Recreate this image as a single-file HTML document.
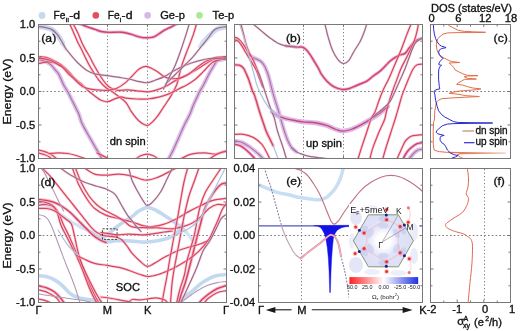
<!DOCTYPE html>
<html><head><meta charset="utf-8"><style>
html,body{margin:0;padding:0;background:#fff;}
body{width:520px;height:331px;overflow:hidden;}
svg{display:block;filter:blur(0.35px);}
</style></head><body>
<svg width="520" height="331" viewBox="0 0 520 331">
<rect width="520" height="331" fill="#fff"/>
<defs>
<clipPath id="ca"><rect x="39" y="25" width="188" height="134"/></clipPath>
<clipPath id="cb"><rect x="235" y="25" width="188" height="134"/></clipPath>
<clipPath id="cc"><rect x="431" y="25" width="80" height="134"/></clipPath>
<clipPath id="cd"><rect x="39" y="169" width="188" height="134"/></clipPath>
<clipPath id="ce"><rect x="259" y="169" width="164" height="134"/></clipPath>
<clipPath id="cf"><rect x="431" y="169" width="80" height="134"/></clipPath>
<linearGradient id="cbar" x1="0" x2="1" y1="0" y2="0"><stop offset="0" stop-color="#ff2020"/><stop offset="0.5" stop-color="#ffffff"/><stop offset="1" stop-color="#2030e0"/></linearGradient>
</defs>
<line x1="107.5" y1="25.0" x2="107.5" y2="158.0" stroke="#7a7a7a" stroke-width="1" stroke-dasharray="1.2,2.3"/><line x1="147.5" y1="25.0" x2="147.5" y2="158.0" stroke="#7a7a7a" stroke-width="1" stroke-dasharray="1.2,2.3"/><line x1="39.0" y1="91.5" x2="226.0" y2="91.5" stroke="#7a7a7a" stroke-width="1" stroke-dasharray="1.6,2.2"/><line x1="303.5" y1="25.0" x2="303.5" y2="158.0" stroke="#7a7a7a" stroke-width="1" stroke-dasharray="1.2,2.3"/><line x1="343.5" y1="25.0" x2="343.5" y2="158.0" stroke="#7a7a7a" stroke-width="1" stroke-dasharray="1.2,2.3"/><line x1="235.0" y1="91.5" x2="422.0" y2="91.5" stroke="#7a7a7a" stroke-width="1" stroke-dasharray="1.6,2.2"/><line x1="107.5" y1="169.0" x2="107.5" y2="302.0" stroke="#7a7a7a" stroke-width="1" stroke-dasharray="1.2,2.3"/><line x1="147.5" y1="169.0" x2="147.5" y2="302.0" stroke="#7a7a7a" stroke-width="1" stroke-dasharray="1.2,2.3"/><line x1="39.0" y1="235.5" x2="226.0" y2="235.5" stroke="#7a7a7a" stroke-width="1" stroke-dasharray="1.6,2.2"/><line x1="431.0" y1="91.5" x2="510.0" y2="91.5" stroke="#7a7a7a" stroke-width="1" stroke-dasharray="1.6,2.2"/><line x1="431.0" y1="235.5" x2="510.0" y2="235.5" stroke="#7a7a7a" stroke-width="1" stroke-dasharray="1.6,2.2"/><line x1="484.5" y1="169.0" x2="484.5" y2="302.0" stroke="#7a7a7a" stroke-width="1" stroke-dasharray="1.2,2.3"/><line x1="301.5" y1="169.0" x2="301.5" y2="302.0" stroke="#7a7a7a" stroke-width="1" stroke-dasharray="1.2,2.3"/><line x1="259.0" y1="235.5" x2="350.0" y2="235.5" stroke="#7a7a7a" stroke-width="1" stroke-dasharray="1.6,2.2"/>
<g clip-path="url(#ca)" fill="none" stroke-linecap="round" stroke-linejoin="round"><path d="M38.0,26.6 C39.1,26.7 42.5,26.9 44.8,27.4 C47.1,27.9 49.6,28.3 51.6,29.4 C53.6,30.5 55.5,32.5 57.0,34.2 C58.5,35.9 59.6,38.0 60.5,39.5 C61.4,41.0 62.2,42.4 62.5,43.0" stroke="#c4daf1" stroke-width="5.2" stroke-opacity="0.95"/><path d="M226.0,26.8 C224.5,27.2 219.9,27.5 217.1,29.1 C214.3,30.7 211.0,34.3 209.0,36.2 C207.0,38.1 206.1,39.3 205.0,40.5 C203.9,41.7 202.9,43.0 202.5,43.5" stroke="#c4daf1" stroke-width="5.2" stroke-opacity="0.95"/><path d="M61.0,40.5 C61.4,41.2 62.8,43.6 63.5,45.0 C64.2,46.4 65.2,48.3 65.5,49.0" stroke="#cfe1f4" stroke-width="3.6" stroke-opacity="0.80"/><path d="M207.0,38.5 C206.3,39.2 204.2,41.2 203.0,42.5 C201.8,43.8 200.1,45.8 199.5,46.5" stroke="#cfe1f4" stroke-width="3.6" stroke-opacity="0.80"/><path d="M38.0,59.5 C38.8,59.7 41.3,60.0 43.0,60.5 C44.7,61.0 46.6,61.9 48.0,62.7 C49.4,63.5 50.4,64.2 51.6,65.4 C52.8,66.6 54.0,68.4 55.2,69.9 C56.4,71.4 57.5,71.9 58.9,74.5 C60.3,77.1 62.3,82.4 63.8,85.3 C65.3,88.2 66.5,89.6 67.9,92.1 C69.3,94.6 70.6,97.6 72.0,100.3 C73.4,103.0 75.0,106.2 76.1,108.5 C77.2,110.8 77.9,111.7 78.8,114.0 C79.7,116.3 80.4,119.5 81.5,122.2 C82.6,124.9 84.0,127.4 85.6,130.3 C87.2,133.2 89.3,136.7 91.1,139.9 C92.9,143.1 94.9,146.7 96.5,149.4 C98.1,152.1 99.7,154.6 100.6,156.2 C101.5,157.8 101.8,158.5 102.0,159.0" stroke="#dabcec" stroke-width="4.2" stroke-opacity="0.95"/><path d="M38.0,59.5 C38.8,59.7 41.3,60.0 43.0,60.5 C44.7,61.0 46.6,61.9 48.0,62.7 C49.4,63.5 50.4,64.2 51.6,65.4 C52.8,66.6 54.0,68.4 55.2,69.9 C56.4,71.4 57.5,71.9 58.9,74.5 C60.3,77.1 62.3,82.4 63.8,85.3 C65.3,88.2 66.5,89.6 67.9,92.1 C69.3,94.6 70.6,97.6 72.0,100.3 C73.4,103.0 75.0,106.2 76.1,108.5 C77.2,110.8 77.9,111.7 78.8,114.0 C79.7,116.3 80.4,119.5 81.5,122.2 C82.6,124.9 84.0,127.4 85.6,130.3 C87.2,133.2 89.3,136.7 91.1,139.9 C92.9,143.1 94.9,146.7 96.5,149.4 C98.1,152.1 99.7,154.6 100.6,156.2 C101.5,157.8 101.8,158.5 102.0,159.0" stroke="#b0709c" stroke-width="1.1" stroke-opacity="1.00"/><path d="M226.0,58.6 C225.4,58.7 223.7,59.0 222.2,59.4 C220.7,59.8 218.2,60.2 217.0,61.0 C215.8,61.8 216.2,61.9 214.9,63.9 C213.7,65.9 211.3,69.7 209.5,73.0 C207.7,76.3 205.3,81.5 204.0,84.0 C202.7,86.5 202.5,86.7 201.7,88.0 C200.9,89.3 200.3,90.2 199.4,92.0 C198.5,93.8 197.3,96.7 196.2,99.0 C195.1,101.3 193.9,103.8 193.0,106.0 C192.1,108.2 191.6,110.2 190.8,112.0 C190.1,113.8 189.6,114.8 188.5,117.0 C187.4,119.2 186.0,121.6 184.4,124.9 C182.8,128.2 180.8,133.0 179.0,137.1 C177.2,141.2 175.1,146.0 173.5,149.4 C171.9,152.8 170.2,155.9 169.4,157.5 C168.6,159.1 168.7,158.8 168.5,159.0" stroke="#dabcec" stroke-width="4.2" stroke-opacity="0.95"/><path d="M226.0,58.6 C225.4,58.7 223.7,59.0 222.2,59.4 C220.7,59.8 218.2,60.2 217.0,61.0 C215.8,61.8 216.2,61.9 214.9,63.9 C213.7,65.9 211.3,69.7 209.5,73.0 C207.7,76.3 205.3,81.5 204.0,84.0 C202.7,86.5 202.5,86.7 201.7,88.0 C200.9,89.3 200.3,90.2 199.4,92.0 C198.5,93.8 197.3,96.7 196.2,99.0 C195.1,101.3 193.9,103.8 193.0,106.0 C192.1,108.2 191.6,110.2 190.8,112.0 C190.1,113.8 189.6,114.8 188.5,117.0 C187.4,119.2 186.0,121.6 184.4,124.9 C182.8,128.2 180.8,133.0 179.0,137.1 C177.2,141.2 175.1,146.0 173.5,149.4 C171.9,152.8 170.2,155.9 169.4,157.5 C168.6,159.1 168.7,158.8 168.5,159.0" stroke="#b0709c" stroke-width="1.1" stroke-opacity="1.00"/><path d="M78.0,23.5 C78.4,23.6 78.7,23.5 80.2,24.0 C81.7,24.5 84.5,25.8 87.0,26.7 C89.5,27.6 92.8,28.6 95.1,29.4 C97.4,30.2 98.7,31.0 101.0,31.5 C103.3,32.0 105.8,32.3 109.2,32.4 C112.6,32.5 117.8,31.9 121.4,32.2 C125.0,32.5 128.0,33.4 130.9,34.2 C133.8,35.0 136.6,36.3 139.1,36.9 C141.6,37.5 143.7,37.8 146.0,37.8 C148.3,37.8 150.7,37.8 152.7,37.2 C154.7,36.7 156.1,35.6 158.0,34.5 C159.9,33.4 162.1,31.5 164.1,30.3 C166.1,29.1 168.5,28.2 170.0,27.5 C171.5,26.8 172.1,26.4 173.2,25.8 C174.3,25.2 176.0,24.4 176.8,24.0 C177.6,23.6 177.8,23.6 178.0,23.5" stroke="#f0a8c6" stroke-width="3.2" stroke-opacity="0.85"/><path d="M78.0,23.5 C78.4,23.6 78.7,23.5 80.2,24.0 C81.7,24.5 84.5,25.8 87.0,26.7 C89.5,27.6 92.8,28.6 95.1,29.4 C97.4,30.2 98.7,31.0 101.0,31.5 C103.3,32.0 105.8,32.3 109.2,32.4 C112.6,32.5 117.8,31.9 121.4,32.2 C125.0,32.5 128.0,33.4 130.9,34.2 C133.8,35.0 136.6,36.3 139.1,36.9 C141.6,37.5 143.7,37.8 146.0,37.8 C148.3,37.8 150.7,37.8 152.7,37.2 C154.7,36.7 156.1,35.6 158.0,34.5 C159.9,33.4 162.1,31.5 164.1,30.3 C166.1,29.1 168.5,28.2 170.0,27.5 C171.5,26.8 172.1,26.4 173.2,25.8 C174.3,25.2 176.0,24.4 176.8,24.0 C177.6,23.6 177.8,23.6 178.0,23.5" stroke="#cc4276" stroke-width="1.4" stroke-opacity="1.00"/><path d="M69.3,23.0 C70.0,24.5 72.0,29.1 73.4,32.2 C74.8,35.3 76.1,38.7 77.5,41.7 C78.9,44.7 80.5,47.3 81.8,50.0 C83.1,52.7 84.3,55.3 85.6,58.0 C86.9,60.7 88.3,63.5 89.7,66.0 C91.1,68.5 92.5,70.6 94.0,73.0 C95.5,75.4 97.3,78.2 98.8,80.2 C100.3,82.2 101.6,83.6 103.0,85.0 C104.4,86.4 105.7,87.4 107.2,88.5 C108.7,89.6 110.2,90.2 112.0,91.5 C113.8,92.8 115.7,94.2 118.0,96.0 C120.3,97.8 123.8,100.0 126.0,102.6 C128.2,105.2 129.3,108.7 131.4,111.7 C133.5,114.7 136.3,118.5 138.7,120.8 C141.1,123.1 144.1,124.7 145.9,125.3 C147.7,125.9 147.8,125.8 149.6,124.4 C151.4,123.0 154.4,120.1 156.8,117.1 C159.2,114.1 161.7,109.9 164.1,106.3 C166.5,102.7 169.2,99.0 171.3,95.4 C173.4,91.8 175.4,88.1 176.8,84.5 C178.2,80.9 178.6,77.4 179.5,74.0 C180.4,70.6 180.9,68.0 182.3,63.9 C183.7,59.8 185.9,54.2 187.7,49.4 C189.5,44.6 191.7,39.3 193.2,34.9 C194.7,30.5 196.2,25.0 196.8,23.0" stroke="#f5b8c4" stroke-width="2.8" stroke-opacity="0.60"/><path d="M69.3,23.0 C70.0,24.5 72.0,29.1 73.4,32.2 C74.8,35.3 76.1,38.7 77.5,41.7 C78.9,44.7 80.5,47.3 81.8,50.0 C83.1,52.7 84.3,55.3 85.6,58.0 C86.9,60.7 88.3,63.5 89.7,66.0 C91.1,68.5 92.5,70.6 94.0,73.0 C95.5,75.4 97.3,78.2 98.8,80.2 C100.3,82.2 101.6,83.6 103.0,85.0 C104.4,86.4 105.7,87.4 107.2,88.5 C108.7,89.6 110.2,90.2 112.0,91.5 C113.8,92.8 115.7,94.2 118.0,96.0 C120.3,97.8 123.8,100.0 126.0,102.6 C128.2,105.2 129.3,108.7 131.4,111.7 C133.5,114.7 136.3,118.5 138.7,120.8 C141.1,123.1 144.1,124.7 145.9,125.3 C147.7,125.9 147.8,125.8 149.6,124.4 C151.4,123.0 154.4,120.1 156.8,117.1 C159.2,114.1 161.7,109.9 164.1,106.3 C166.5,102.7 169.2,99.0 171.3,95.4 C173.4,91.8 175.4,88.1 176.8,84.5 C178.2,80.9 178.6,77.4 179.5,74.0 C180.4,70.6 180.9,68.0 182.3,63.9 C183.7,59.8 185.9,54.2 187.7,49.4 C189.5,44.6 191.7,39.3 193.2,34.9 C194.7,30.5 196.2,25.0 196.8,23.0" stroke="#d9435f" stroke-width="1.2" stroke-opacity="1.00"/><path d="M72.7,23.0 C73.5,24.5 76.0,29.1 77.5,32.2 C79.0,35.3 80.2,38.8 81.5,41.7 C82.8,44.7 84.2,47.4 85.6,49.9 C87.0,52.4 88.3,54.2 89.7,56.7 C91.1,59.2 92.3,62.1 93.8,64.8 C95.3,67.5 97.0,70.5 98.5,73.0 C100.0,75.5 101.5,77.9 103.0,80.0 C104.5,82.1 106.0,84.1 107.5,85.5 C109.0,86.9 110.2,87.7 112.0,88.5 C113.8,89.3 115.3,90.1 118.0,90.3 C120.7,90.5 124.8,89.7 128.0,89.8 C131.2,89.9 133.6,90.5 136.9,90.8 C140.2,91.1 144.5,91.9 147.8,91.8 C151.1,91.7 153.8,90.8 156.8,89.9 C159.8,89.0 162.9,87.8 165.9,86.3 C168.9,84.8 171.6,82.7 174.9,80.9 C178.2,79.1 182.5,77.2 186.0,75.4 C189.5,73.6 192.8,71.9 196.0,70.0 C199.2,68.1 202.6,65.8 205.3,64.1 C208.0,62.4 209.6,61.0 212.0,60.0 C214.4,59.0 217.7,58.4 220.0,58.0 C222.3,57.6 225.0,57.6 226.0,57.5" stroke="#f5b8c4" stroke-width="2.8" stroke-opacity="0.60"/><path d="M72.7,23.0 C73.5,24.5 76.0,29.1 77.5,32.2 C79.0,35.3 80.2,38.8 81.5,41.7 C82.8,44.7 84.2,47.4 85.6,49.9 C87.0,52.4 88.3,54.2 89.7,56.7 C91.1,59.2 92.3,62.1 93.8,64.8 C95.3,67.5 97.0,70.5 98.5,73.0 C100.0,75.5 101.5,77.9 103.0,80.0 C104.5,82.1 106.0,84.1 107.5,85.5 C109.0,86.9 110.2,87.7 112.0,88.5 C113.8,89.3 115.3,90.1 118.0,90.3 C120.7,90.5 124.8,89.7 128.0,89.8 C131.2,89.9 133.6,90.5 136.9,90.8 C140.2,91.1 144.5,91.9 147.8,91.8 C151.1,91.7 153.8,90.8 156.8,89.9 C159.8,89.0 162.9,87.8 165.9,86.3 C168.9,84.8 171.6,82.7 174.9,80.9 C178.2,79.1 182.5,77.2 186.0,75.4 C189.5,73.6 192.8,71.9 196.0,70.0 C199.2,68.1 202.6,65.8 205.3,64.1 C208.0,62.4 209.6,61.0 212.0,60.0 C214.4,59.0 217.7,58.4 220.0,58.0 C222.3,57.6 225.0,57.6 226.0,57.5" stroke="#d9435f" stroke-width="1.2" stroke-opacity="1.00"/><path d="M38.0,63.6 C38.8,63.5 41.0,63.0 42.5,62.7 C44.0,62.4 45.6,61.9 47.1,61.8 C48.6,61.7 50.1,61.9 51.6,62.2 C53.1,62.5 54.4,62.9 56.1,63.6 C57.8,64.3 60.1,65.2 61.6,66.3 C63.1,67.3 64.0,68.5 65.2,69.9 C66.4,71.3 67.4,73.2 68.8,74.5 C70.2,75.8 71.3,76.2 73.4,77.8 C75.5,79.4 79.0,81.8 81.5,84.0 C84.0,86.2 86.0,88.8 88.3,90.8 C90.6,92.8 93.0,94.6 95.1,96.2 C97.2,97.8 98.9,99.4 101.0,100.3 C103.1,101.2 105.5,101.9 107.8,101.7 C110.1,101.5 112.3,99.7 114.6,98.9 C116.9,98.1 119.5,97.0 121.4,96.9 C123.3,96.8 123.4,97.8 126.0,98.1 C128.6,98.4 133.3,98.8 136.9,99.0 C140.5,99.2 144.2,99.3 147.8,99.0 C151.4,98.7 155.0,98.1 158.6,97.2 C162.2,96.3 165.9,95.1 169.5,93.6 C173.1,92.1 177.7,89.5 180.4,88.1 C183.2,86.7 183.7,86.8 186.0,85.4 C188.3,84.1 191.9,81.9 194.4,80.0 C196.9,78.1 199.2,75.8 201.0,74.0 C202.8,72.2 203.4,71.5 205.3,69.5 C207.2,67.5 210.2,64.0 212.6,62.3 C215.0,60.6 217.8,60.0 220.0,59.5 C222.2,59.0 225.0,59.4 226.0,59.4" stroke="#f5b8c4" stroke-width="2.8" stroke-opacity="0.60"/><path d="M38.0,63.6 C38.8,63.5 41.0,63.0 42.5,62.7 C44.0,62.4 45.6,61.9 47.1,61.8 C48.6,61.7 50.1,61.9 51.6,62.2 C53.1,62.5 54.4,62.9 56.1,63.6 C57.8,64.3 60.1,65.2 61.6,66.3 C63.1,67.3 64.0,68.5 65.2,69.9 C66.4,71.3 67.4,73.2 68.8,74.5 C70.2,75.8 71.3,76.2 73.4,77.8 C75.5,79.4 79.0,81.8 81.5,84.0 C84.0,86.2 86.0,88.8 88.3,90.8 C90.6,92.8 93.0,94.6 95.1,96.2 C97.2,97.8 98.9,99.4 101.0,100.3 C103.1,101.2 105.5,101.9 107.8,101.7 C110.1,101.5 112.3,99.7 114.6,98.9 C116.9,98.1 119.5,97.0 121.4,96.9 C123.3,96.8 123.4,97.8 126.0,98.1 C128.6,98.4 133.3,98.8 136.9,99.0 C140.5,99.2 144.2,99.3 147.8,99.0 C151.4,98.7 155.0,98.1 158.6,97.2 C162.2,96.3 165.9,95.1 169.5,93.6 C173.1,92.1 177.7,89.5 180.4,88.1 C183.2,86.7 183.7,86.8 186.0,85.4 C188.3,84.1 191.9,81.9 194.4,80.0 C196.9,78.1 199.2,75.8 201.0,74.0 C202.8,72.2 203.4,71.5 205.3,69.5 C207.2,67.5 210.2,64.0 212.6,62.3 C215.0,60.6 217.8,60.0 220.0,59.5 C222.2,59.0 225.0,59.4 226.0,59.4" stroke="#d9435f" stroke-width="1.2" stroke-opacity="1.00"/><path d="M38.0,56.8 C38.8,56.8 41.0,56.6 42.5,56.8 C44.0,56.9 45.6,57.2 47.1,57.7 C48.6,58.2 50.1,58.8 51.6,59.5 C53.1,60.2 54.6,61.0 56.1,61.8 C57.6,62.6 59.2,63.5 60.7,64.5 C62.2,65.5 63.7,66.7 65.2,68.1 C66.7,69.5 67.9,70.7 69.7,72.7 C71.5,74.7 73.9,77.7 76.1,80.0 C78.3,82.3 80.2,85.1 82.9,86.7 C85.6,88.3 89.4,88.8 92.4,89.4 C95.4,90.0 98.2,90.1 101.0,90.2 C103.8,90.3 106.5,90.5 109.2,90.1 C111.9,89.7 114.6,89.2 117.3,88.0 C120.0,86.8 123.0,84.6 125.5,82.6 C128.0,80.6 130.0,78.1 132.3,75.8 C134.6,73.5 136.8,70.6 139.1,69.0 C141.4,67.4 143.3,66.2 146.0,66.4 C148.7,66.6 152.1,68.6 155.1,70.3 C158.1,72.0 161.7,75.2 164.1,76.6 C166.5,77.9 167.2,78.1 169.6,78.4 C172.0,78.7 175.7,79.0 178.7,78.4 C181.7,77.8 184.7,76.6 187.7,74.8 C190.7,73.0 193.8,69.8 196.8,67.5 C199.8,65.2 202.9,62.9 205.9,61.2 C208.9,59.6 211.6,58.4 214.9,57.6 C218.2,56.9 224.2,56.9 226.0,56.7" stroke="#f5b8c4" stroke-width="2.8" stroke-opacity="0.60"/><path d="M38.0,56.8 C38.8,56.8 41.0,56.6 42.5,56.8 C44.0,56.9 45.6,57.2 47.1,57.7 C48.6,58.2 50.1,58.8 51.6,59.5 C53.1,60.2 54.6,61.0 56.1,61.8 C57.6,62.6 59.2,63.5 60.7,64.5 C62.2,65.5 63.7,66.7 65.2,68.1 C66.7,69.5 67.9,70.7 69.7,72.7 C71.5,74.7 73.9,77.7 76.1,80.0 C78.3,82.3 80.2,85.1 82.9,86.7 C85.6,88.3 89.4,88.8 92.4,89.4 C95.4,90.0 98.2,90.1 101.0,90.2 C103.8,90.3 106.5,90.5 109.2,90.1 C111.9,89.7 114.6,89.2 117.3,88.0 C120.0,86.8 123.0,84.6 125.5,82.6 C128.0,80.6 130.0,78.1 132.3,75.8 C134.6,73.5 136.8,70.6 139.1,69.0 C141.4,67.4 143.3,66.2 146.0,66.4 C148.7,66.6 152.1,68.6 155.1,70.3 C158.1,72.0 161.7,75.2 164.1,76.6 C166.5,77.9 167.2,78.1 169.6,78.4 C172.0,78.7 175.7,79.0 178.7,78.4 C181.7,77.8 184.7,76.6 187.7,74.8 C190.7,73.0 193.8,69.8 196.8,67.5 C199.8,65.2 202.9,62.9 205.9,61.2 C208.9,59.6 211.6,58.4 214.9,57.6 C218.2,56.9 224.2,56.9 226.0,56.7" stroke="#d9435f" stroke-width="1.2" stroke-opacity="1.00"/><path d="M38.0,58.2 C38.9,58.3 41.6,58.3 43.4,58.6 C45.2,58.9 47.2,59.5 48.9,60.0 C50.6,60.5 51.9,61.0 53.4,61.8 C54.9,62.5 56.4,63.6 57.9,64.5 C59.4,65.4 61.0,66.0 62.5,67.2 C64.0,68.4 65.5,70.3 67.0,71.8 C68.5,73.3 70.0,74.8 71.5,76.3 C73.0,77.8 74.2,79.3 76.1,81.0 C78.0,82.7 81.8,85.8 82.9,86.7" stroke="#f5b8c4" stroke-width="2.8" stroke-opacity="0.60"/><path d="M38.0,58.2 C38.9,58.3 41.6,58.3 43.4,58.6 C45.2,58.9 47.2,59.5 48.9,60.0 C50.6,60.5 51.9,61.0 53.4,61.8 C54.9,62.5 56.4,63.6 57.9,64.5 C59.4,65.4 61.0,66.0 62.5,67.2 C64.0,68.4 65.5,70.3 67.0,71.8 C68.5,73.3 70.0,74.8 71.5,76.3 C73.0,77.8 74.2,79.3 76.1,81.0 C78.0,82.7 81.8,85.8 82.9,86.7" stroke="#d9435f" stroke-width="1.2" stroke-opacity="1.00"/><path d="M38.0,150.0 C39.4,150.3 43.9,151.3 46.2,152.1 C48.5,152.9 49.8,153.7 51.6,154.8 C53.4,156.0 56.1,158.3 57.0,159.0" stroke="#f5b8c4" stroke-width="2.8" stroke-opacity="0.60"/><path d="M38.0,150.0 C39.4,150.3 43.9,151.3 46.2,152.1 C48.5,152.9 49.8,153.7 51.6,154.8 C53.4,156.0 56.1,158.3 57.0,159.0" stroke="#d9435f" stroke-width="1.2" stroke-opacity="1.00"/><path d="M38.0,152.8 C39.1,153.1 42.8,154.0 44.8,154.8 C46.8,155.6 49.2,156.8 50.2,157.5 C51.2,158.2 50.9,158.8 51.0,159.0" stroke="#f5b8c4" stroke-width="2.8" stroke-opacity="0.60"/><path d="M38.0,152.8 C39.1,153.1 42.8,154.0 44.8,154.8 C46.8,155.6 49.2,156.8 50.2,157.5 C51.2,158.2 50.9,158.8 51.0,159.0" stroke="#d9435f" stroke-width="1.2" stroke-opacity="1.00"/><path d="M48.9,153.5 C50.5,153.4 55.2,152.8 58.4,152.8 C61.6,152.8 65.0,153.1 67.9,153.5 C70.9,153.9 73.4,154.7 76.1,155.5 C78.8,156.3 82.6,157.6 84.3,158.2 C86.0,158.8 85.7,158.9 86.0,159.0" stroke="#f5b8c4" stroke-width="2.8" stroke-opacity="0.60"/><path d="M48.9,153.5 C50.5,153.4 55.2,152.8 58.4,152.8 C61.6,152.8 65.0,153.1 67.9,153.5 C70.9,153.9 73.4,154.7 76.1,155.5 C78.8,156.3 82.6,157.6 84.3,158.2 C86.0,158.8 85.7,158.9 86.0,159.0" stroke="#d9435f" stroke-width="1.2" stroke-opacity="1.00"/><path d="M97.0,153.0 C97.7,153.3 99.4,154.1 101.0,154.8 C102.6,155.6 105.2,156.8 106.4,157.5 C107.6,158.2 107.7,158.8 108.0,159.0" stroke="#f5b8c4" stroke-width="2.8" stroke-opacity="0.60"/><path d="M97.0,153.0 C97.7,153.3 99.4,154.1 101.0,154.8 C102.6,155.6 105.2,156.8 106.4,157.5 C107.6,158.2 107.7,158.8 108.0,159.0" stroke="#d9435f" stroke-width="1.2" stroke-opacity="1.00"/><path d="M136.0,159.0 C136.7,158.5 138.1,156.8 140.0,156.0 C141.9,155.2 145.0,154.1 147.3,154.1 C149.6,154.1 152.2,155.2 154.0,156.0 C155.8,156.8 157.3,158.5 158.0,159.0" stroke="#f5b8c4" stroke-width="2.8" stroke-opacity="0.60"/><path d="M136.0,159.0 C136.7,158.5 138.1,156.8 140.0,156.0 C141.9,155.2 145.0,154.1 147.3,154.1 C149.6,154.1 152.2,155.2 154.0,156.0 C155.8,156.8 157.3,158.5 158.0,159.0" stroke="#d9435f" stroke-width="1.2" stroke-opacity="1.00"/><path d="M180.3,159.0 C182.1,158.2 187.1,155.1 191.2,154.1 C195.3,153.1 200.7,152.8 204.8,152.8 C208.9,152.8 212.2,154.4 215.7,154.1 C219.2,153.8 224.3,151.3 226.0,150.7" stroke="#f5b8c4" stroke-width="2.8" stroke-opacity="0.60"/><path d="M180.3,159.0 C182.1,158.2 187.1,155.1 191.2,154.1 C195.3,153.1 200.7,152.8 204.8,152.8 C208.9,152.8 212.2,154.4 215.7,154.1 C219.2,153.8 224.3,151.3 226.0,150.7" stroke="#d9435f" stroke-width="1.2" stroke-opacity="1.00"/><path d="M208.9,159.0 C210.5,158.1 215.6,154.8 218.4,153.5 C221.2,152.2 224.7,151.8 226.0,151.4" stroke="#f5b8c4" stroke-width="2.8" stroke-opacity="0.60"/><path d="M208.9,159.0 C210.5,158.1 215.6,154.8 218.4,153.5 C221.2,152.2 224.7,151.8 226.0,151.4" stroke="#d9435f" stroke-width="1.2" stroke-opacity="1.00"/><path d="M38.0,26.6 C39.1,26.7 42.5,26.9 44.8,27.4 C47.1,27.9 49.6,28.3 51.6,29.4 C53.6,30.5 55.4,32.4 57.0,34.2 C58.6,36.0 59.7,38.0 61.1,40.3 C62.5,42.6 63.9,45.6 65.4,48.0 C67.0,50.4 68.2,51.8 70.4,54.4 C72.6,57.0 75.8,60.9 78.5,63.5 C81.2,66.1 83.9,68.5 86.6,70.2 C89.3,71.9 91.3,72.9 94.7,73.8 C98.1,74.7 103.0,75.0 106.9,75.6 C110.8,76.2 114.3,76.6 118.0,77.2 C121.7,77.8 125.2,78.2 128.9,79.0 C132.6,79.8 136.8,81.1 140.0,81.7 C143.2,82.3 145.3,83.0 147.8,82.7 C150.3,82.5 152.4,81.2 155.1,80.2 C157.8,79.2 161.1,78.1 164.1,76.6 C167.1,75.1 170.2,72.9 173.2,71.2 C176.2,69.5 179.3,68.0 182.3,66.6 C185.3,65.2 188.4,64.0 191.4,63.0 C194.4,62.0 197.4,61.0 200.4,60.3 C203.4,59.5 206.5,58.8 209.5,58.5 C212.5,58.2 215.8,58.4 218.6,58.5 C221.3,58.6 224.8,59.2 226.0,59.4" stroke="#e8c8d8" stroke-width="2.4" stroke-opacity="0.50"/><path d="M38.0,26.6 C39.1,26.7 42.5,26.9 44.8,27.4 C47.1,27.9 49.6,28.3 51.6,29.4 C53.6,30.5 55.4,32.4 57.0,34.2 C58.6,36.0 59.7,38.0 61.1,40.3 C62.5,42.6 63.9,45.6 65.4,48.0 C67.0,50.4 68.2,51.8 70.4,54.4 C72.6,57.0 75.8,60.9 78.5,63.5 C81.2,66.1 83.9,68.5 86.6,70.2 C89.3,71.9 91.3,72.9 94.7,73.8 C98.1,74.7 103.0,75.0 106.9,75.6 C110.8,76.2 114.3,76.6 118.0,77.2 C121.7,77.8 125.2,78.2 128.9,79.0 C132.6,79.8 136.8,81.1 140.0,81.7 C143.2,82.3 145.3,83.0 147.8,82.7 C150.3,82.5 152.4,81.2 155.1,80.2 C157.8,79.2 161.1,78.1 164.1,76.6 C167.1,75.1 170.2,72.9 173.2,71.2 C176.2,69.5 179.3,68.0 182.3,66.6 C185.3,65.2 188.4,64.0 191.4,63.0 C194.4,62.0 197.4,61.0 200.4,60.3 C203.4,59.5 206.5,58.8 209.5,58.5 C212.5,58.2 215.8,58.4 218.6,58.5 C221.3,58.6 224.8,59.2 226.0,59.4" stroke="#a06888" stroke-width="1.2" stroke-opacity="1.00"/><path d="M226.0,26.6 C224.2,27.1 218.0,27.4 214.9,29.4 C211.8,31.4 210.1,35.5 207.7,38.5 C205.3,41.5 202.8,44.6 200.4,47.6 C198.0,50.6 195.6,54.0 193.2,56.7 C190.8,59.4 188.3,61.5 185.9,63.9 C183.5,66.3 181.1,68.8 178.7,71.2 C176.3,73.6 173.5,76.3 171.4,78.4 C169.3,80.5 167.3,82.2 166.0,84.0 C164.7,85.8 163.9,88.2 163.5,89.0" stroke="#e8c8d8" stroke-width="2.4" stroke-opacity="0.50"/><path d="M226.0,26.6 C224.2,27.1 218.0,27.4 214.9,29.4 C211.8,31.4 210.1,35.5 207.7,38.5 C205.3,41.5 202.8,44.6 200.4,47.6 C198.0,50.6 195.6,54.0 193.2,56.7 C190.8,59.4 188.3,61.5 185.9,63.9 C183.5,66.3 181.1,68.8 178.7,71.2 C176.3,73.6 173.5,76.3 171.4,78.4 C169.3,80.5 167.3,82.2 166.0,84.0 C164.7,85.8 163.9,88.2 163.5,89.0" stroke="#a06888" stroke-width="1.2" stroke-opacity="1.00"/><path d="M189.5,23.0 C188.9,25.0 187.4,30.2 185.9,34.9 C184.4,39.6 182.3,46.1 180.5,51.2 C178.7,56.3 176.8,61.5 175.0,65.7 C173.2,69.9 171.0,73.7 169.6,76.6 C168.2,79.5 167.2,81.3 166.5,83.0 C165.8,84.7 165.7,85.9 165.5,86.5" stroke="#e8c8d8" stroke-width="2.4" stroke-opacity="0.50"/><path d="M189.5,23.0 C188.9,25.0 187.4,30.2 185.9,34.9 C184.4,39.6 182.3,46.1 180.5,51.2 C178.7,56.3 176.8,61.5 175.0,65.7 C173.2,69.9 171.0,73.7 169.6,76.6 C168.2,79.5 167.2,81.3 166.5,83.0 C165.8,84.7 165.7,85.9 165.5,86.5" stroke="#a06888" stroke-width="1.2" stroke-opacity="1.00"/></g>
<g clip-path="url(#cb)" fill="none" stroke-linecap="round" stroke-linejoin="round"><path d="M248.5,54.2 C249.0,54.6 250.0,55.8 251.3,56.6 C252.6,57.4 254.6,58.2 256.2,59.0 C257.8,59.8 259.6,60.3 261.0,61.5 C262.4,62.7 263.4,64.1 264.5,66.0 C265.6,67.9 266.6,70.7 267.5,73.0 C268.4,75.3 268.9,77.3 269.6,80.0 C270.3,82.7 271.0,85.8 271.9,89.1 C272.8,92.4 273.8,95.8 274.9,99.6 C276.0,103.4 277.6,107.9 278.7,111.7 C279.8,115.5 280.8,119.2 281.7,122.3 C282.6,125.3 283.0,127.0 284.0,130.0 C285.0,132.9 286.2,137.1 287.5,140.0 C288.8,142.9 290.1,145.6 291.5,147.5 C292.9,149.4 295.2,150.8 296.0,151.5" stroke="#dabcec" stroke-width="4.2" stroke-opacity="0.95"/><path d="M248.5,54.2 C249.0,54.6 250.0,55.8 251.3,56.6 C252.6,57.4 254.6,58.2 256.2,59.0 C257.8,59.8 259.6,60.3 261.0,61.5 C262.4,62.7 263.4,64.1 264.5,66.0 C265.6,67.9 266.6,70.7 267.5,73.0 C268.4,75.3 268.9,77.3 269.6,80.0 C270.3,82.7 271.0,85.8 271.9,89.1 C272.8,92.4 273.8,95.8 274.9,99.6 C276.0,103.4 277.6,107.9 278.7,111.7 C279.8,115.5 280.8,119.2 281.7,122.3 C282.6,125.3 283.0,127.0 284.0,130.0 C285.0,132.9 286.2,137.1 287.5,140.0 C288.8,142.9 290.1,145.6 291.5,147.5 C292.9,149.4 295.2,150.8 296.0,151.5" stroke="#b0709c" stroke-width="1.1" stroke-opacity="1.00"/><path d="M234.0,140.9 C235.4,141.2 239.5,141.4 242.2,142.5 C244.9,143.6 247.6,145.5 250.3,147.4 C253.0,149.3 256.3,152.1 258.5,154.0 C260.7,155.9 262.6,158.2 263.4,159.0" stroke="#dabcec" stroke-width="4.2" stroke-opacity="0.95"/><path d="M234.0,140.9 C235.4,141.2 239.5,141.4 242.2,142.5 C244.9,143.6 247.6,145.5 250.3,147.4 C253.0,149.3 256.3,152.1 258.5,154.0 C260.7,155.9 262.6,158.2 263.4,159.0" stroke="#b0709c" stroke-width="1.1" stroke-opacity="1.00"/><path d="M409.0,159.0 C409.8,158.0 412.5,154.5 414.0,153.0 C415.5,151.5 416.5,150.7 418.0,150.0 C419.5,149.3 422.2,149.2 423.0,149.0" stroke="#dabcec" stroke-width="4.2" stroke-opacity="0.95"/><path d="M409.0,159.0 C409.8,158.0 412.5,154.5 414.0,153.0 C415.5,151.5 416.5,150.7 418.0,150.0 C419.5,149.3 422.2,149.2 423.0,149.0" stroke="#b0709c" stroke-width="1.1" stroke-opacity="1.00"/><path d="M272.0,111.5 C272.6,112.0 273.8,113.7 275.7,114.7 C277.6,115.8 280.4,116.9 283.2,117.8 C286.0,118.7 289.5,119.4 292.3,120.0 C295.1,120.6 297.9,121.2 300.0,121.5 C302.1,121.8 302.4,121.8 305.2,122.1 C308.0,122.3 313.1,122.5 316.6,123.0 C320.1,123.5 323.1,124.3 326.4,125.4 C329.7,126.5 333.5,128.6 336.2,129.5 C338.9,130.4 340.2,131.1 342.7,131.1 C345.1,131.1 348.0,130.4 350.9,129.5 C353.8,128.6 356.9,127.0 360.0,125.4 C363.1,123.8 366.5,121.7 369.8,119.7 C373.1,117.7 376.6,115.4 379.6,113.2 C382.6,111.0 386.4,107.7 387.7,106.6" stroke="#dcb4e6" stroke-width="4.8" stroke-opacity="0.95"/><path d="M272.0,111.5 C272.6,112.0 273.8,113.7 275.7,114.7 C277.6,115.8 280.4,116.9 283.2,117.8 C286.0,118.7 289.5,119.4 292.3,120.0 C295.1,120.6 297.9,121.2 300.0,121.5 C302.1,121.8 302.4,121.8 305.2,122.1 C308.0,122.3 313.1,122.5 316.6,123.0 C320.1,123.5 323.1,124.3 326.4,125.4 C329.7,126.5 333.5,128.6 336.2,129.5 C338.9,130.4 340.2,131.1 342.7,131.1 C345.1,131.1 348.0,130.4 350.9,129.5 C353.8,128.6 356.9,127.0 360.0,125.4 C363.1,123.8 366.5,121.7 369.8,119.7 C373.1,117.7 376.6,115.4 379.6,113.2 C382.6,111.0 386.4,107.7 387.7,106.6" stroke="#c4487c" stroke-width="1.3" stroke-opacity="1.00"/><path d="M285.7,45.8 C287.6,46.0 294.2,46.9 297.0,47.1 C299.8,47.3 300.8,46.6 302.4,47.1 C304.0,47.6 305.1,48.5 306.5,49.9 C307.9,51.3 309.2,53.3 310.6,55.3 C312.0,57.3 313.3,59.8 314.7,62.1 C316.1,64.4 317.7,67.0 318.8,69.0 C319.9,71.0 320.1,72.4 321.5,74.4 C322.9,76.4 324.9,79.2 326.9,81.2 C328.9,83.2 331.2,85.3 333.7,86.7 C336.2,88.1 339.4,89.1 341.9,89.4 C344.4,89.7 346.4,89.3 348.7,88.7 C351.0,88.1 353.6,86.8 355.5,86.0 C357.4,85.2 358.1,84.8 360.0,84.0 C361.9,83.2 364.5,82.6 366.8,81.2 C369.1,79.8 371.3,77.6 373.6,75.8 C375.9,74.0 377.8,73.1 380.7,70.6 C383.6,68.0 387.8,63.0 390.8,60.5 C393.8,58.0 396.5,56.6 398.9,55.4 C401.3,54.2 403.3,54.6 405.0,53.4 C406.7,52.2 407.6,50.0 409.0,48.3 C410.4,46.6 411.8,44.6 413.1,43.2 C414.5,41.9 415.6,41.0 417.1,40.2 C418.6,39.4 420.9,38.6 422.0,38.2 C423.1,37.8 423.7,38.0 424.0,38.0" stroke="#f0a8c6" stroke-width="3.2" stroke-opacity="0.85"/><path d="M285.7,45.8 C287.6,46.0 294.2,46.9 297.0,47.1 C299.8,47.3 300.8,46.6 302.4,47.1 C304.0,47.6 305.1,48.5 306.5,49.9 C307.9,51.3 309.2,53.3 310.6,55.3 C312.0,57.3 313.3,59.8 314.7,62.1 C316.1,64.4 317.7,67.0 318.8,69.0 C319.9,71.0 320.1,72.4 321.5,74.4 C322.9,76.4 324.9,79.2 326.9,81.2 C328.9,83.2 331.2,85.3 333.7,86.7 C336.2,88.1 339.4,89.1 341.9,89.4 C344.4,89.7 346.4,89.3 348.7,88.7 C351.0,88.1 353.6,86.8 355.5,86.0 C357.4,85.2 358.1,84.8 360.0,84.0 C361.9,83.2 364.5,82.6 366.8,81.2 C369.1,79.8 371.3,77.6 373.6,75.8 C375.9,74.0 377.8,73.1 380.7,70.6 C383.6,68.0 387.8,63.0 390.8,60.5 C393.8,58.0 396.5,56.6 398.9,55.4 C401.3,54.2 403.3,54.6 405.0,53.4 C406.7,52.2 407.6,50.0 409.0,48.3 C410.4,46.6 411.8,44.6 413.1,43.2 C414.5,41.9 415.6,41.0 417.1,40.2 C418.6,39.4 420.9,38.6 422.0,38.2 C423.1,37.8 423.7,38.0 424.0,38.0" stroke="#cc4276" stroke-width="1.4" stroke-opacity="1.00"/><path d="M234.0,144.2 C235.1,144.5 238.3,144.7 240.5,145.8 C242.7,146.9 244.9,148.8 247.1,150.7 C249.3,152.6 252.3,155.8 253.6,157.2 C254.9,158.6 254.8,158.7 255.0,159.0" stroke="#f0a8c6" stroke-width="3.2" stroke-opacity="0.85"/><path d="M234.0,144.2 C235.1,144.5 238.3,144.7 240.5,145.8 C242.7,146.9 244.9,148.8 247.1,150.7 C249.3,152.6 252.3,155.8 253.6,157.2 C254.9,158.6 254.8,158.7 255.0,159.0" stroke="#cc4276" stroke-width="1.4" stroke-opacity="1.00"/><path d="M403.0,159.0 C403.7,157.8 405.6,153.9 407.0,152.0 C408.4,150.1 409.4,149.1 411.1,147.7 C412.8,146.3 415.1,144.5 417.1,143.7 C419.1,142.9 422.0,142.9 423.0,142.7" stroke="#f0a8c6" stroke-width="3.2" stroke-opacity="0.85"/><path d="M403.0,159.0 C403.7,157.8 405.6,153.9 407.0,152.0 C408.4,150.1 409.4,149.1 411.1,147.7 C412.8,146.3 415.1,144.5 417.1,143.7 C419.1,142.9 422.0,142.9 423.0,142.7" stroke="#cc4276" stroke-width="1.4" stroke-opacity="1.00"/><path d="M234.0,64.8 C234.9,64.9 237.8,64.6 239.4,65.2 C241.0,65.8 242.4,66.8 243.5,68.2 C244.6,69.6 245.4,71.8 246.2,73.6 C247.0,75.4 247.8,77.1 248.5,79.0 C249.2,80.9 249.8,83.0 250.5,85.0 C251.2,87.0 251.8,89.3 252.5,91.0 C253.2,92.7 253.8,93.2 254.5,95.1 C255.2,97.0 256.0,100.0 256.8,102.5 C257.6,105.0 258.0,106.7 259.1,110.2 C260.2,113.8 262.4,120.2 263.6,123.8 C264.8,127.4 265.4,129.5 266.5,132.0 C267.6,134.5 268.8,136.7 269.9,139.0 C271.0,141.3 272.6,144.7 273.2,145.8" stroke="#f3a7bd" stroke-width="3.2" stroke-opacity="0.80"/><path d="M234.0,64.8 C234.9,64.9 237.8,64.6 239.4,65.2 C241.0,65.8 242.4,66.8 243.5,68.2 C244.6,69.6 245.4,71.8 246.2,73.6 C247.0,75.4 247.8,77.1 248.5,79.0 C249.2,80.9 249.8,83.0 250.5,85.0 C251.2,87.0 251.8,89.3 252.5,91.0 C253.2,92.7 253.8,93.2 254.5,95.1 C255.2,97.0 256.0,100.0 256.8,102.5 C257.6,105.0 258.0,106.7 259.1,110.2 C260.2,113.8 262.4,120.2 263.6,123.8 C264.8,127.4 265.4,129.5 266.5,132.0 C267.6,134.5 268.8,136.7 269.9,139.0 C271.0,141.3 272.6,144.7 273.2,145.8" stroke="#d3405f" stroke-width="1.3" stroke-opacity="1.00"/><path d="M240.5,23.0 C241.0,24.8 242.5,30.2 243.5,34.0 C244.5,37.8 245.4,42.3 246.5,45.7 C247.6,49.1 248.9,51.6 250.1,54.2 C251.3,56.8 252.6,58.8 253.8,61.4 C255.0,64.0 256.4,67.4 257.4,70.0 C258.4,72.6 259.6,75.8 260.0,77.0" stroke="#f5b8c4" stroke-width="2.8" stroke-opacity="0.60"/><path d="M240.5,23.0 C241.0,24.8 242.5,30.2 243.5,34.0 C244.5,37.8 245.4,42.3 246.5,45.7 C247.6,49.1 248.9,51.6 250.1,54.2 C251.3,56.8 252.6,58.8 253.8,61.4 C255.0,64.0 256.4,67.4 257.4,70.0 C258.4,72.6 259.6,75.8 260.0,77.0" stroke="#d9435f" stroke-width="1.2" stroke-opacity="1.00"/><path d="M234.0,37.3 C234.5,37.4 235.7,37.3 236.8,37.9 C237.9,38.5 239.3,39.6 240.5,40.9 C241.7,42.2 242.9,43.9 244.1,45.7 C245.3,47.5 246.5,50.0 247.7,51.8 C248.9,53.6 250.7,55.8 251.3,56.6" stroke="#f5b8c4" stroke-width="2.8" stroke-opacity="0.60"/><path d="M234.0,37.3 C234.5,37.4 235.7,37.3 236.8,37.9 C237.9,38.5 239.3,39.6 240.5,40.9 C241.7,42.2 242.9,43.9 244.1,45.7 C245.3,47.5 246.5,50.0 247.7,51.8 C248.9,53.6 250.7,55.8 251.3,56.6" stroke="#d9435f" stroke-width="1.2" stroke-opacity="1.00"/><path d="M234.0,39.7 C234.7,39.9 236.7,39.9 238.0,40.9 C239.3,41.9 240.5,43.9 241.7,45.7 C242.9,47.5 244.1,49.8 245.3,51.8 C246.5,53.8 247.7,55.8 248.9,57.8 C250.1,59.8 251.4,61.9 252.6,63.9 C253.8,65.9 255.1,67.6 256.2,70.0 C257.3,72.4 258.3,75.5 259.4,78.3 C260.5,81.1 262.1,85.5 262.6,87.0" stroke="#f5b8c4" stroke-width="2.8" stroke-opacity="0.60"/><path d="M234.0,39.7 C234.7,39.9 236.7,39.9 238.0,40.9 C239.3,41.9 240.5,43.9 241.7,45.7 C242.9,47.5 244.1,49.8 245.3,51.8 C246.5,53.8 247.7,55.8 248.9,57.8 C250.1,59.8 251.4,61.9 252.6,63.9 C253.8,65.9 255.1,67.6 256.2,70.0 C257.3,72.4 258.3,75.5 259.4,78.3 C260.5,81.1 262.1,85.5 262.6,87.0" stroke="#d9435f" stroke-width="1.2" stroke-opacity="1.00"/><path d="M411.6,23.0 C411.5,23.2 411.9,22.1 411.1,24.0 C410.3,25.9 408.7,29.7 407.0,34.1 C405.3,38.5 402.9,45.2 400.9,50.3 C398.9,55.4 396.9,59.8 394.9,64.5 C392.9,69.2 390.8,74.3 388.8,78.7 C386.8,83.1 384.4,87.1 382.7,91.0 C381.0,94.9 379.8,98.5 378.5,102.0 C377.2,105.5 376.2,109.3 375.0,112.0 C373.8,114.7 372.8,114.6 371.4,118.1 C370.0,121.5 368.1,127.8 366.5,132.7 C364.9,137.6 363.0,143.0 361.6,147.4 C360.2,151.8 358.6,157.1 358.0,159.0" stroke="#f5b8c4" stroke-width="2.8" stroke-opacity="0.60"/><path d="M411.6,23.0 C411.5,23.2 411.9,22.1 411.1,24.0 C410.3,25.9 408.7,29.7 407.0,34.1 C405.3,38.5 402.9,45.2 400.9,50.3 C398.9,55.4 396.9,59.8 394.9,64.5 C392.9,69.2 390.8,74.3 388.8,78.7 C386.8,83.1 384.4,87.1 382.7,91.0 C381.0,94.9 379.8,98.5 378.5,102.0 C377.2,105.5 376.2,109.3 375.0,112.0 C373.8,114.7 372.8,114.6 371.4,118.1 C370.0,121.5 368.1,127.8 366.5,132.7 C364.9,137.6 363.0,143.0 361.6,147.4 C360.2,151.8 358.6,157.1 358.0,159.0" stroke="#d9435f" stroke-width="1.2" stroke-opacity="1.00"/><path d="M418.8,23.0 C418.8,23.2 419.0,21.8 418.5,24.0 C418.0,26.2 416.9,32.4 415.8,36.2 C414.7,40.1 413.3,43.5 411.7,47.1 C410.1,50.7 408.1,54.4 406.3,58.0 C404.5,61.6 402.4,65.3 400.8,69.0 C399.2,72.7 398.1,76.3 396.7,79.9 C395.3,83.5 394.0,87.0 392.7,90.8 C391.4,94.6 389.7,99.1 388.6,103.0 C387.5,106.9 386.6,111.2 385.9,114.0 C385.2,116.8 385.8,116.3 384.5,119.7 C383.2,123.1 379.9,129.8 378.0,134.4 C376.1,139.0 374.4,143.3 373.0,147.4 C371.6,151.5 370.3,157.1 369.8,159.0" stroke="#f5b8c4" stroke-width="2.8" stroke-opacity="0.60"/><path d="M418.8,23.0 C418.8,23.2 419.0,21.8 418.5,24.0 C418.0,26.2 416.9,32.4 415.8,36.2 C414.7,40.1 413.3,43.5 411.7,47.1 C410.1,50.7 408.1,54.4 406.3,58.0 C404.5,61.6 402.4,65.3 400.8,69.0 C399.2,72.7 398.1,76.3 396.7,79.9 C395.3,83.5 394.0,87.0 392.7,90.8 C391.4,94.6 389.7,99.1 388.6,103.0 C387.5,106.9 386.6,111.2 385.9,114.0 C385.2,116.8 385.8,116.3 384.5,119.7 C383.2,123.1 379.9,129.8 378.0,134.4 C376.1,139.0 374.4,143.3 373.0,147.4 C371.6,151.5 370.3,157.1 369.8,159.0" stroke="#d9435f" stroke-width="1.2" stroke-opacity="1.00"/><path d="M423.0,64.0 C422.0,64.1 418.8,64.0 417.1,64.8 C415.5,65.6 414.7,66.3 413.1,69.0 C411.5,71.7 409.4,76.9 407.6,81.2 C405.8,85.5 403.6,90.8 402.2,94.9 C400.8,99.0 400.1,102.2 399.0,106.0 C397.9,109.8 396.8,113.7 395.5,118.0 C394.2,122.3 392.5,127.3 391.0,132.0 C389.5,136.7 387.9,141.5 386.5,146.0 C385.1,150.5 383.3,156.8 382.7,159.0" stroke="#f5b8c4" stroke-width="2.8" stroke-opacity="0.60"/><path d="M423.0,64.0 C422.0,64.1 418.8,64.0 417.1,64.8 C415.5,65.6 414.7,66.3 413.1,69.0 C411.5,71.7 409.4,76.9 407.6,81.2 C405.8,85.5 403.6,90.8 402.2,94.9 C400.8,99.0 400.1,102.2 399.0,106.0 C397.9,109.8 396.8,113.7 395.5,118.0 C394.2,122.3 392.5,127.3 391.0,132.0 C389.5,136.7 387.9,141.5 386.5,146.0 C385.1,150.5 383.3,156.8 382.7,159.0" stroke="#d9435f" stroke-width="1.2" stroke-opacity="1.00"/><path d="M234.0,134.4 C235.6,134.4 240.5,133.9 243.8,134.4 C247.1,134.9 250.6,136.0 253.6,137.6 C256.6,139.2 259.5,141.8 261.7,144.2 C263.9,146.6 265.2,149.8 266.6,152.3 C268.0,154.8 269.3,157.9 269.9,159.0" stroke="#f5b8c4" stroke-width="2.8" stroke-opacity="0.60"/><path d="M234.0,134.4 C235.6,134.4 240.5,133.9 243.8,134.4 C247.1,134.9 250.6,136.0 253.6,137.6 C256.6,139.2 259.5,141.8 261.7,144.2 C263.9,146.6 265.2,149.8 266.6,152.3 C268.0,154.8 269.3,157.9 269.9,159.0" stroke="#d9435f" stroke-width="1.2" stroke-opacity="1.00"/><path d="M397.0,159.0 C397.7,157.5 399.7,152.9 401.0,150.0 C402.3,147.1 403.7,143.7 405.0,141.6 C406.3,139.5 407.6,138.5 409.0,137.5 C410.4,136.5 410.8,136.1 413.1,135.6 C415.4,135.1 421.4,134.8 423.0,134.6" stroke="#f5b8c4" stroke-width="2.8" stroke-opacity="0.60"/><path d="M397.0,159.0 C397.7,157.5 399.7,152.9 401.0,150.0 C402.3,147.1 403.7,143.7 405.0,141.6 C406.3,139.5 407.6,138.5 409.0,137.5 C410.4,136.5 410.8,136.1 413.1,135.6 C415.4,135.1 421.4,134.8 423.0,134.6" stroke="#d9435f" stroke-width="1.2" stroke-opacity="1.00"/><path d="M252.0,23.0 C252.2,23.2 251.5,22.7 253.0,24.0 C254.5,25.3 258.5,28.5 261.2,30.8 C263.9,33.1 266.7,35.6 269.4,37.6 C272.1,39.6 274.8,41.6 277.5,43.0 C280.2,44.4 282.4,45.1 285.7,45.8 C288.9,46.5 295.1,46.9 297.0,47.1" stroke="#e8c8d8" stroke-width="2.4" stroke-opacity="0.50"/><path d="M252.0,23.0 C252.2,23.2 251.5,22.7 253.0,24.0 C254.5,25.3 258.5,28.5 261.2,30.8 C263.9,33.1 266.7,35.6 269.4,37.6 C272.1,39.6 274.8,41.6 277.5,43.0 C280.2,44.4 282.4,45.1 285.7,45.8 C288.9,46.5 295.1,46.9 297.0,47.1" stroke="#a06888" stroke-width="1.2" stroke-opacity="1.00"/><path d="M324.5,23.0 C324.6,23.2 324.3,21.6 324.9,24.0 C325.5,26.4 327.1,33.3 328.3,37.6 C329.6,41.9 330.8,46.3 332.4,49.9 C334.0,53.5 336.0,57.1 337.8,59.4 C339.6,61.7 341.5,63.3 343.3,63.5 C345.1,63.7 346.9,62.8 348.7,60.7 C350.5,58.7 352.2,54.4 354.1,51.2 C356.0,48.0 358.3,44.9 360.0,41.7 C361.7,38.5 363.0,35.2 364.1,32.2 C365.2,29.3 366.3,25.5 366.8,24.0 C367.3,22.5 367.1,23.2 367.2,23.0" stroke="#e8c8d8" stroke-width="2.4" stroke-opacity="0.50"/><path d="M324.5,23.0 C324.6,23.2 324.3,21.6 324.9,24.0 C325.5,26.4 327.1,33.3 328.3,37.6 C329.6,41.9 330.8,46.3 332.4,49.9 C334.0,53.5 336.0,57.1 337.8,59.4 C339.6,61.7 341.5,63.3 343.3,63.5 C345.1,63.7 346.9,62.8 348.7,60.7 C350.5,58.7 352.2,54.4 354.1,51.2 C356.0,48.0 358.3,44.9 360.0,41.7 C361.7,38.5 363.0,35.2 364.1,32.2 C365.2,29.3 366.3,25.5 366.8,24.0 C367.3,22.5 367.1,23.2 367.2,23.0" stroke="#a06888" stroke-width="1.2" stroke-opacity="1.00"/><path d="M257.4,70.0 C258.0,71.7 260.0,76.3 261.3,80.0 C262.6,83.7 263.7,87.8 265.1,92.1 C266.5,96.4 268.1,101.4 269.6,105.7 C271.1,110.0 272.9,113.8 274.2,117.8 C275.5,121.8 276.1,126.3 277.2,130.0 C278.2,133.7 279.4,136.8 280.5,140.0 C281.6,143.2 282.5,145.8 283.5,149.0 C284.5,152.2 286.0,157.3 286.5,159.0" stroke="#e8c8d8" stroke-width="2.4" stroke-opacity="0.50"/><path d="M257.4,70.0 C258.0,71.7 260.0,76.3 261.3,80.0 C262.6,83.7 263.7,87.8 265.1,92.1 C266.5,96.4 268.1,101.4 269.6,105.7 C271.1,110.0 272.9,113.8 274.2,117.8 C275.5,121.8 276.1,126.3 277.2,130.0 C278.2,133.7 279.4,136.8 280.5,140.0 C281.6,143.2 282.5,145.8 283.5,149.0 C284.5,152.2 286.0,157.3 286.5,159.0" stroke="#a06888" stroke-width="1.2" stroke-opacity="1.00"/><path d="M291.5,147.5 C292.2,148.2 294.6,150.5 296.0,151.5 C297.4,152.5 298.2,152.8 300.0,153.5 C301.8,154.2 304.0,155.1 307.0,155.8 C310.0,156.5 314.2,157.0 318.0,157.5 C321.8,158.0 327.7,158.8 329.6,159.0" stroke="#e8c8d8" stroke-width="2.4" stroke-opacity="0.50"/><path d="M291.5,147.5 C292.2,148.2 294.6,150.5 296.0,151.5 C297.4,152.5 298.2,152.8 300.0,153.5 C301.8,154.2 304.0,155.1 307.0,155.8 C310.0,156.5 314.2,157.0 318.0,157.5 C321.8,158.0 327.7,158.8 329.6,159.0" stroke="#a06888" stroke-width="1.2" stroke-opacity="1.00"/><path d="M369.8,119.7 C370.9,118.8 374.3,115.7 376.3,114.0 C378.3,112.3 379.5,111.8 381.8,109.8 C384.1,107.8 387.9,104.4 389.9,101.7 C391.9,99.0 392.4,96.9 394.0,93.5 C395.6,90.1 397.7,85.3 399.5,81.2 C401.3,77.1 403.3,72.9 404.9,69.0 C406.5,65.1 407.4,62.1 409.0,58.0 C410.6,53.9 412.6,47.5 414.4,44.4 C416.2,41.3 418.5,40.6 419.9,39.5 C421.3,38.4 422.5,38.2 423.0,38.0" stroke="#e8c8d8" stroke-width="2.4" stroke-opacity="0.50"/><path d="M369.8,119.7 C370.9,118.8 374.3,115.7 376.3,114.0 C378.3,112.3 379.5,111.8 381.8,109.8 C384.1,107.8 387.9,104.4 389.9,101.7 C391.9,99.0 392.4,96.9 394.0,93.5 C395.6,90.1 397.7,85.3 399.5,81.2 C401.3,77.1 403.3,72.9 404.9,69.0 C406.5,65.1 407.4,62.1 409.0,58.0 C410.6,53.9 412.6,47.5 414.4,44.4 C416.2,41.3 418.5,40.6 419.9,39.5 C421.3,38.4 422.5,38.2 423.0,38.0" stroke="#a06888" stroke-width="1.2" stroke-opacity="1.00"/><path d="M239.4,23.0 C240.0,25.0 241.9,30.8 243.1,34.9 C244.3,39.0 245.6,43.8 246.7,47.6 C247.8,51.5 248.6,54.8 249.5,58.0 C250.4,61.2 251.2,64.0 252.0,67.0 C252.8,70.0 253.8,73.2 254.5,76.0 C255.2,78.8 255.7,81.6 256.5,84.0 C257.3,86.4 257.9,88.0 259.1,90.6 C260.3,93.2 261.9,96.6 263.6,99.6 C265.4,102.6 267.6,106.2 269.6,108.7 C271.6,111.2 274.0,113.4 275.7,114.7 C277.4,116.0 279.3,116.5 280.0,116.8" stroke="#a9c4e0" stroke-width="1.2" stroke-opacity="1.00"/><path d="M273.2,145.8 C273.7,147.2 275.6,151.8 276.4,154.0 C277.2,156.2 277.8,158.2 278.1,159.0" stroke="#a9c4e0" stroke-width="1.2" stroke-opacity="1.00"/></g>
<g clip-path="url(#cd)" fill="none" stroke-linecap="round" stroke-linejoin="round"><path d="M80.0,226.5 C81.1,227.0 83.8,227.9 86.6,229.5 C89.4,231.1 93.4,234.0 96.8,236.0 C100.2,238.0 103.9,240.8 106.9,241.6 C109.9,242.4 112.2,241.0 115.0,240.8 C117.8,240.6 121.2,240.6 124.0,240.6 C126.8,240.6 128.6,240.8 132.0,241.1 C135.4,241.3 140.1,242.1 144.2,242.1 C148.2,242.1 152.2,241.8 156.3,241.1 C160.4,240.4 165.5,239.0 168.5,238.0 C171.5,237.0 172.7,236.3 174.5,235.0 C176.3,233.7 178.2,231.8 179.6,230.0 C181.0,228.2 182.4,225.0 183.0,224.0" stroke="#c2d9f0" stroke-width="3.6" stroke-opacity="1.00"/><path d="M102.0,238.0 C103.3,237.1 107.0,234.8 110.0,232.5 C113.0,230.2 116.1,227.2 119.8,224.5 C123.5,221.8 128.9,218.8 132.0,216.6 C135.1,214.4 135.6,213.1 138.1,211.6 C140.6,210.1 144.2,207.7 147.2,207.5 C150.2,207.3 153.4,209.2 156.3,210.5 C159.2,211.8 161.7,213.9 164.4,215.6 C167.1,217.3 169.8,218.8 172.5,220.7 C175.2,222.6 178.3,224.9 180.6,226.8 C182.8,228.7 185.1,231.1 186.0,232.0" stroke="#c2d9f0" stroke-width="3.6" stroke-opacity="1.00"/><path d="M38.0,275.5 C39.4,275.7 43.4,275.8 46.1,276.5 C48.8,277.2 51.5,278.1 54.2,279.6 C56.9,281.1 59.6,283.2 62.3,285.6 C65.0,288.0 67.7,291.8 70.4,293.8 C73.1,295.8 75.1,296.8 78.5,297.8 C81.9,298.8 87.1,299.3 90.7,299.8 C94.3,300.3 98.5,300.8 100.0,301.0" stroke="#c2d9f0" stroke-width="3.6" stroke-opacity="1.00"/><path d="M226.0,274.5 C224.5,274.7 219.9,274.8 217.1,275.5 C214.3,276.2 211.7,277.2 209.0,278.6 C206.3,280.0 203.6,281.6 200.9,283.6 C198.2,285.6 195.5,288.5 192.8,290.7 C190.1,292.9 187.1,294.9 184.7,296.8 C182.3,298.7 179.9,300.8 178.6,302.0 C177.3,303.2 177.3,303.7 177.0,304.0" stroke="#c2d9f0" stroke-width="3.6" stroke-opacity="1.00"/><path d="M38.0,203.5 C40.0,204.2 46.2,205.5 50.2,207.5 C54.2,209.5 58.2,212.9 62.3,215.6 C66.3,218.3 70.9,221.5 74.5,223.7 C78.1,225.8 82.4,227.7 84.0,228.5" stroke="#d3e4f5" stroke-width="3.2" stroke-opacity="1.00"/><path d="M186.0,232.0 C186.4,232.5 187.7,233.7 188.7,235.0 C189.7,236.3 191.4,239.2 192.0,240.0" stroke="#d3e4f5" stroke-width="3.2" stroke-opacity="1.00"/><path d="M38.0,199.4 C39.4,199.6 43.4,199.9 46.1,200.4 C48.8,200.9 51.5,201.4 54.2,202.4 C56.9,203.4 59.6,204.8 62.3,206.5 C65.0,208.2 67.7,210.2 70.4,212.6 C73.1,215.0 75.8,218.0 78.5,220.7 C81.2,223.4 84.2,226.4 86.6,228.8 C89.0,231.2 90.5,233.1 92.7,235.0 C94.9,236.9 97.8,238.8 100.0,240.0 C102.2,241.2 105.0,242.1 106.0,242.5" stroke="#f3a7bd" stroke-width="3.2" stroke-opacity="0.80"/><path d="M38.0,199.4 C39.4,199.6 43.4,199.9 46.1,200.4 C48.8,200.9 51.5,201.4 54.2,202.4 C56.9,203.4 59.6,204.8 62.3,206.5 C65.0,208.2 67.7,210.2 70.4,212.6 C73.1,215.0 75.8,218.0 78.5,220.7 C81.2,223.4 84.2,226.4 86.6,228.8 C89.0,231.2 90.5,233.1 92.7,235.0 C94.9,236.9 97.8,238.8 100.0,240.0 C102.2,241.2 105.0,242.1 106.0,242.5" stroke="#d3405f" stroke-width="1.3" stroke-opacity="1.00"/><path d="M226.0,183.0 C225.2,183.2 222.8,183.2 221.1,184.3 C219.4,185.4 217.5,187.5 215.7,189.8 C213.9,192.1 212.0,195.0 210.3,197.9 C208.6,200.8 206.8,204.0 205.5,207.0 C204.2,210.0 203.4,212.8 202.5,216.0 C201.6,219.2 201.1,221.8 200.0,225.9 C198.9,230.0 197.4,235.6 196.2,240.4 C195.0,245.2 193.8,250.1 192.6,254.9 C191.4,259.7 190.1,264.9 188.9,269.4 C187.7,273.9 186.8,277.7 185.5,282.0 C184.2,286.3 182.2,291.5 181.0,295.0 C179.8,298.5 179.0,301.7 178.6,303.0" stroke="#f3a7bd" stroke-width="3.2" stroke-opacity="0.80"/><path d="M226.0,183.0 C225.2,183.2 222.8,183.2 221.1,184.3 C219.4,185.4 217.5,187.5 215.7,189.8 C213.9,192.1 212.0,195.0 210.3,197.9 C208.6,200.8 206.8,204.0 205.5,207.0 C204.2,210.0 203.4,212.8 202.5,216.0 C201.6,219.2 201.1,221.8 200.0,225.9 C198.9,230.0 197.4,235.6 196.2,240.4 C195.0,245.2 193.8,250.1 192.6,254.9 C191.4,259.7 190.1,264.9 188.9,269.4 C187.7,273.9 186.8,277.7 185.5,282.0 C184.2,286.3 182.2,291.5 181.0,295.0 C179.8,298.5 179.0,301.7 178.6,303.0" stroke="#d3405f" stroke-width="1.3" stroke-opacity="1.00"/><path d="M226.0,285.6 C224.5,286.1 219.9,287.3 217.1,288.7 C214.3,290.1 211.4,292.1 209.0,293.8 C206.6,295.5 204.6,297.3 202.9,298.8 C201.2,300.3 199.6,302.3 198.9,303.0" stroke="#f3a7bd" stroke-width="3.2" stroke-opacity="0.80"/><path d="M226.0,285.6 C224.5,286.1 219.9,287.3 217.1,288.7 C214.3,290.1 211.4,292.1 209.0,293.8 C206.6,295.5 204.6,297.3 202.9,298.8 C201.2,300.3 199.6,302.3 198.9,303.0" stroke="#d3405f" stroke-width="1.3" stroke-opacity="1.00"/><path d="M38.0,285.6 C39.4,286.0 43.4,286.7 46.1,287.7 C48.8,288.7 51.8,290.0 54.2,291.7 C56.6,293.4 58.6,295.9 60.3,297.8 C62.0,299.7 63.6,302.1 64.3,303.0" stroke="#f3a7bd" stroke-width="3.2" stroke-opacity="0.80"/><path d="M38.0,285.6 C39.4,286.0 43.4,286.7 46.1,287.7 C48.8,288.7 51.8,290.0 54.2,291.7 C56.6,293.4 58.6,295.9 60.3,297.8 C62.0,299.7 63.6,302.1 64.3,303.0" stroke="#d3405f" stroke-width="1.3" stroke-opacity="1.00"/><path d="M41.0,166.0 C41.2,166.3 40.6,166.3 42.1,168.0 C43.6,169.7 47.5,173.1 50.2,176.1 C52.9,179.1 55.6,182.8 58.3,186.2 C61.0,189.6 63.7,193.0 66.4,196.4 C69.1,199.8 71.8,203.1 74.5,206.5 C77.2,209.9 79.9,213.2 82.6,216.6 C85.3,220.0 88.3,224.2 90.7,226.8 C93.1,229.5 94.8,231.1 97.0,232.5 C99.2,233.9 101.8,234.9 104.0,235.5 C106.2,236.1 108.0,236.1 110.0,236.3 C112.0,236.6 114.1,236.5 116.0,237.0 C117.9,237.5 119.6,238.0 121.4,239.5 C123.2,241.0 125.2,243.7 127.0,246.0 C128.8,248.3 129.8,250.6 132.0,253.2 C134.2,255.8 137.6,259.1 140.1,261.3 C142.6,263.5 144.8,266.0 147.2,266.4 C149.6,266.8 151.4,264.9 154.3,263.4 C157.2,261.9 160.7,259.3 164.4,257.3 C168.1,255.3 172.6,252.9 176.6,251.2 C180.6,249.5 184.8,248.4 188.7,247.2 C192.6,246.0 196.9,245.0 200.0,244.0 C203.1,243.0 205.8,241.5 207.0,241.0" stroke="#f5b8c4" stroke-width="2.8" stroke-opacity="0.60"/><path d="M41.0,166.0 C41.2,166.3 40.6,166.3 42.1,168.0 C43.6,169.7 47.5,173.1 50.2,176.1 C52.9,179.1 55.6,182.8 58.3,186.2 C61.0,189.6 63.7,193.0 66.4,196.4 C69.1,199.8 71.8,203.1 74.5,206.5 C77.2,209.9 79.9,213.2 82.6,216.6 C85.3,220.0 88.3,224.2 90.7,226.8 C93.1,229.5 94.8,231.1 97.0,232.5 C99.2,233.9 101.8,234.9 104.0,235.5 C106.2,236.1 108.0,236.1 110.0,236.3 C112.0,236.6 114.1,236.5 116.0,237.0 C117.9,237.5 119.6,238.0 121.4,239.5 C123.2,241.0 125.2,243.7 127.0,246.0 C128.8,248.3 129.8,250.6 132.0,253.2 C134.2,255.8 137.6,259.1 140.1,261.3 C142.6,263.5 144.8,266.0 147.2,266.4 C149.6,266.8 151.4,264.9 154.3,263.4 C157.2,261.9 160.7,259.3 164.4,257.3 C168.1,255.3 172.6,252.9 176.6,251.2 C180.6,249.5 184.8,248.4 188.7,247.2 C192.6,246.0 196.9,245.0 200.0,244.0 C203.1,243.0 205.8,241.5 207.0,241.0" stroke="#d9435f" stroke-width="1.2" stroke-opacity="1.00"/><path d="M82.0,166.5 C82.4,166.8 82.5,166.7 84.6,168.0 C86.7,169.3 91.0,172.9 94.7,174.1 C98.4,175.3 102.9,175.1 106.9,175.1 C111.0,175.1 114.8,173.9 119.0,174.1 C123.2,174.3 127.5,175.1 132.0,176.1 C136.5,177.1 141.8,180.0 146.2,180.2 C150.6,180.4 153.9,178.8 158.3,177.1 C162.7,175.4 169.4,171.5 172.5,170.0 C175.6,168.5 175.7,168.5 176.6,168.0 C177.5,167.5 177.8,167.2 178.0,167.0" stroke="#f5b8c4" stroke-width="2.8" stroke-opacity="0.60"/><path d="M82.0,166.5 C82.4,166.8 82.5,166.7 84.6,168.0 C86.7,169.3 91.0,172.9 94.7,174.1 C98.4,175.3 102.9,175.1 106.9,175.1 C111.0,175.1 114.8,173.9 119.0,174.1 C123.2,174.3 127.5,175.1 132.0,176.1 C136.5,177.1 141.8,180.0 146.2,180.2 C150.6,180.4 153.9,178.8 158.3,177.1 C162.7,175.4 169.4,171.5 172.5,170.0 C175.6,168.5 175.7,168.5 176.6,168.0 C177.5,167.5 177.8,167.2 178.0,167.0" stroke="#d9435f" stroke-width="1.2" stroke-opacity="1.00"/><path d="M71.5,166.0 C71.7,166.3 71.2,165.0 72.4,168.0 C73.6,171.0 76.1,179.1 78.5,184.2 C80.9,189.3 83.9,194.3 86.6,198.4 C89.3,202.5 91.3,205.6 94.7,208.5 C98.1,211.4 102.9,213.9 106.9,215.6 C111.0,217.3 114.8,217.6 119.0,218.7 C123.2,219.8 127.1,220.7 132.0,222.0 C136.9,223.3 143.1,226.4 148.2,226.8 C153.3,227.2 157.7,226.0 162.4,224.7 C167.1,223.3 172.2,220.9 176.6,218.7 C181.0,216.5 184.6,213.8 188.7,211.6 C192.8,209.4 196.8,207.4 200.9,205.5 C205.0,203.6 208.8,201.6 213.0,200.4 C217.2,199.2 223.8,198.7 226.0,198.4" stroke="#f5b8c4" stroke-width="2.8" stroke-opacity="0.60"/><path d="M71.5,166.0 C71.7,166.3 71.2,165.0 72.4,168.0 C73.6,171.0 76.1,179.1 78.5,184.2 C80.9,189.3 83.9,194.3 86.6,198.4 C89.3,202.5 91.3,205.6 94.7,208.5 C98.1,211.4 102.9,213.9 106.9,215.6 C111.0,217.3 114.8,217.6 119.0,218.7 C123.2,219.8 127.1,220.7 132.0,222.0 C136.9,223.3 143.1,226.4 148.2,226.8 C153.3,227.2 157.7,226.0 162.4,224.7 C167.1,223.3 172.2,220.9 176.6,218.7 C181.0,216.5 184.6,213.8 188.7,211.6 C192.8,209.4 196.8,207.4 200.9,205.5 C205.0,203.6 208.8,201.6 213.0,200.4 C217.2,199.2 223.8,198.7 226.0,198.4" stroke="#d9435f" stroke-width="1.2" stroke-opacity="1.00"/><path d="M74.8,166.0 C74.9,166.3 74.4,165.2 75.5,168.0 C76.6,170.8 79.2,178.3 81.5,183.0 C83.8,187.7 86.4,192.3 89.0,196.0 C91.6,199.7 94.2,202.5 97.0,205.0 C99.8,207.5 102.8,209.2 106.0,211.0 C109.2,212.8 113.0,214.3 116.0,216.0 C119.0,217.7 121.3,219.2 124.0,221.0 C126.7,222.8 128.0,225.7 132.0,226.8 C136.0,227.9 143.8,227.6 148.2,227.8 C152.6,228.0 154.2,227.6 158.3,227.8 C162.4,228.0 168.4,229.0 172.5,228.8 C176.6,228.6 179.2,227.8 182.6,226.8 C186.0,225.8 189.8,224.4 192.8,222.7 C195.9,221.0 198.2,219.0 200.9,216.6 C203.6,214.2 206.3,210.5 209.0,208.5 C211.7,206.5 214.3,205.0 217.1,204.5 C219.9,204.0 224.5,205.3 226.0,205.5" stroke="#f5b8c4" stroke-width="2.8" stroke-opacity="0.60"/><path d="M74.8,166.0 C74.9,166.3 74.4,165.2 75.5,168.0 C76.6,170.8 79.2,178.3 81.5,183.0 C83.8,187.7 86.4,192.3 89.0,196.0 C91.6,199.7 94.2,202.5 97.0,205.0 C99.8,207.5 102.8,209.2 106.0,211.0 C109.2,212.8 113.0,214.3 116.0,216.0 C119.0,217.7 121.3,219.2 124.0,221.0 C126.7,222.8 128.0,225.7 132.0,226.8 C136.0,227.9 143.8,227.6 148.2,227.8 C152.6,228.0 154.2,227.6 158.3,227.8 C162.4,228.0 168.4,229.0 172.5,228.8 C176.6,228.6 179.2,227.8 182.6,226.8 C186.0,225.8 189.8,224.4 192.8,222.7 C195.9,221.0 198.2,219.0 200.9,216.6 C203.6,214.2 206.3,210.5 209.0,208.5 C211.7,206.5 214.3,205.0 217.1,204.5 C219.9,204.0 224.5,205.3 226.0,205.5" stroke="#d9435f" stroke-width="1.2" stroke-opacity="1.00"/><path d="M38.0,205.5 C39.4,205.3 43.4,204.2 46.1,204.5 C48.8,204.8 52.1,205.4 54.2,207.0 C56.4,208.6 57.4,211.0 59.0,214.0 C60.6,217.0 61.9,221.3 63.6,225.0 C65.3,228.7 67.2,232.0 69.0,235.9 C70.8,239.8 72.8,244.7 74.5,248.6 C76.2,252.5 77.3,255.5 79.0,259.4 C80.7,263.3 82.6,267.8 84.4,272.1 C86.2,276.4 88.1,281.0 89.9,285.0 C91.7,289.0 93.5,293.0 95.0,296.0 C96.5,299.0 98.2,301.8 98.8,303.0" stroke="#f5b8c4" stroke-width="2.8" stroke-opacity="0.60"/><path d="M38.0,205.5 C39.4,205.3 43.4,204.2 46.1,204.5 C48.8,204.8 52.1,205.4 54.2,207.0 C56.4,208.6 57.4,211.0 59.0,214.0 C60.6,217.0 61.9,221.3 63.6,225.0 C65.3,228.7 67.2,232.0 69.0,235.9 C70.8,239.8 72.8,244.7 74.5,248.6 C76.2,252.5 77.3,255.5 79.0,259.4 C80.7,263.3 82.6,267.8 84.4,272.1 C86.2,276.4 88.1,281.0 89.9,285.0 C91.7,289.0 93.5,293.0 95.0,296.0 C96.5,299.0 98.2,301.8 98.8,303.0" stroke="#d9435f" stroke-width="1.2" stroke-opacity="1.00"/><path d="M38.0,201.5 C39.3,201.7 43.5,201.8 46.0,202.5 C48.5,203.2 51.2,204.4 53.0,206.0 C54.8,207.6 55.7,208.8 57.0,212.0 C58.3,215.2 59.4,221.0 60.9,225.0 C62.4,229.0 64.5,232.3 66.3,235.9 C68.1,239.5 70.0,243.2 71.8,246.8 C73.6,250.4 75.4,253.7 77.2,257.6 C79.0,261.5 80.8,265.7 82.6,270.3 C84.4,274.9 86.4,280.7 88.1,285.0 C89.8,289.3 91.5,293.0 93.0,296.0 C94.5,299.0 96.2,301.8 96.8,303.0" stroke="#f5b8c4" stroke-width="2.8" stroke-opacity="0.60"/><path d="M38.0,201.5 C39.3,201.7 43.5,201.8 46.0,202.5 C48.5,203.2 51.2,204.4 53.0,206.0 C54.8,207.6 55.7,208.8 57.0,212.0 C58.3,215.2 59.4,221.0 60.9,225.0 C62.4,229.0 64.5,232.3 66.3,235.9 C68.1,239.5 70.0,243.2 71.8,246.8 C73.6,250.4 75.4,253.7 77.2,257.6 C79.0,261.5 80.8,265.7 82.6,270.3 C84.4,274.9 86.4,280.7 88.1,285.0 C89.8,289.3 91.5,293.0 93.0,296.0 C94.5,299.0 96.2,301.8 96.8,303.0" stroke="#d9435f" stroke-width="1.2" stroke-opacity="1.00"/><path d="M38.0,208.5 C39.5,208.5 44.2,208.1 47.0,208.5 C49.8,208.9 52.3,209.6 55.0,211.0 C57.7,212.4 60.8,215.3 63.0,217.0 C65.2,218.7 66.9,219.7 68.4,221.0 C69.9,222.3 70.8,222.5 71.8,225.0 C72.8,227.5 73.6,232.0 74.5,235.9 C75.4,239.8 76.2,244.4 77.2,248.6 C78.2,252.8 79.3,257.1 80.8,261.3 C82.3,265.5 84.5,270.1 86.3,274.0 C88.1,277.9 89.9,281.5 91.7,285.0 C93.5,288.5 95.3,292.0 97.0,295.0 C98.7,298.0 101.2,301.7 102.0,303.0" stroke="#f5b8c4" stroke-width="2.8" stroke-opacity="0.60"/><path d="M38.0,208.5 C39.5,208.5 44.2,208.1 47.0,208.5 C49.8,208.9 52.3,209.6 55.0,211.0 C57.7,212.4 60.8,215.3 63.0,217.0 C65.2,218.7 66.9,219.7 68.4,221.0 C69.9,222.3 70.8,222.5 71.8,225.0 C72.8,227.5 73.6,232.0 74.5,235.9 C75.4,239.8 76.2,244.4 77.2,248.6 C78.2,252.8 79.3,257.1 80.8,261.3 C82.3,265.5 84.5,270.1 86.3,274.0 C88.1,277.9 89.9,281.5 91.7,285.0 C93.5,288.5 95.3,292.0 97.0,295.0 C98.7,298.0 101.2,301.7 102.0,303.0" stroke="#d9435f" stroke-width="1.2" stroke-opacity="1.00"/><path d="M76.5,255.3 C77.8,256.0 81.6,258.0 84.6,259.3 C87.6,260.6 91.0,262.4 94.7,263.4 C98.4,264.4 102.9,264.7 106.9,265.4 C111.0,266.1 114.8,266.4 119.0,267.4 C123.2,268.4 128.5,270.3 132.0,271.5 C135.5,272.7 137.4,273.7 140.1,274.5 C142.8,275.3 145.2,276.5 148.2,276.5 C151.2,276.5 154.9,275.5 158.3,274.5 C161.7,273.5 165.1,272.0 168.5,270.5 C171.9,269.0 175.2,267.3 178.6,265.4 C182.0,263.5 185.3,261.7 188.7,259.3 C192.1,256.9 195.5,254.6 198.9,251.2 C202.3,247.8 206.6,242.6 209.0,239.1 C211.4,235.6 212.0,233.2 213.5,230.0 C215.0,226.8 216.6,223.3 218.0,220.0 C219.4,216.7 220.7,212.7 222.0,210.0 C223.3,207.3 225.3,205.0 226.0,204.0" stroke="#f5b8c4" stroke-width="2.8" stroke-opacity="0.60"/><path d="M76.5,255.3 C77.8,256.0 81.6,258.0 84.6,259.3 C87.6,260.6 91.0,262.4 94.7,263.4 C98.4,264.4 102.9,264.7 106.9,265.4 C111.0,266.1 114.8,266.4 119.0,267.4 C123.2,268.4 128.5,270.3 132.0,271.5 C135.5,272.7 137.4,273.7 140.1,274.5 C142.8,275.3 145.2,276.5 148.2,276.5 C151.2,276.5 154.9,275.5 158.3,274.5 C161.7,273.5 165.1,272.0 168.5,270.5 C171.9,269.0 175.2,267.3 178.6,265.4 C182.0,263.5 185.3,261.7 188.7,259.3 C192.1,256.9 195.5,254.6 198.9,251.2 C202.3,247.8 206.6,242.6 209.0,239.1 C211.4,235.6 212.0,233.2 213.5,230.0 C215.0,226.8 216.6,223.3 218.0,220.0 C219.4,216.7 220.7,212.7 222.0,210.0 C223.3,207.3 225.3,205.0 226.0,204.0" stroke="#d9435f" stroke-width="1.2" stroke-opacity="1.00"/><path d="M101.0,232.5 C102.4,232.7 106.5,233.2 109.2,233.6 C111.9,234.0 114.1,234.7 117.3,234.8 C120.5,234.9 124.1,234.1 128.2,234.1 C132.3,234.1 137.3,234.9 141.8,234.8 C146.3,234.7 151.7,233.9 155.4,233.4 C159.1,232.9 161.2,232.4 164.0,232.0 C166.8,231.6 170.8,231.2 172.2,231.0" stroke="#f5b8c4" stroke-width="2.8" stroke-opacity="0.60"/><path d="M101.0,232.5 C102.4,232.7 106.5,233.2 109.2,233.6 C111.9,234.0 114.1,234.7 117.3,234.8 C120.5,234.9 124.1,234.1 128.2,234.1 C132.3,234.1 137.3,234.9 141.8,234.8 C146.3,234.7 151.7,233.9 155.4,233.4 C159.1,232.9 161.2,232.4 164.0,232.0 C166.8,231.6 170.8,231.2 172.2,231.0" stroke="#d9435f" stroke-width="1.2" stroke-opacity="1.00"/><path d="M188.5,166.0 C188.4,166.3 188.4,165.3 187.7,168.0 C186.9,170.7 185.1,177.0 184.0,182.0 C182.9,187.0 182.0,192.5 181.0,198.0 C180.0,203.5 179.0,209.8 178.1,215.0 C177.2,220.2 176.2,224.7 175.3,229.5 C174.4,234.3 173.5,239.2 172.6,244.0 C171.7,248.8 170.8,253.3 169.9,258.5 C169.0,263.7 168.1,269.9 167.2,275.0 C166.3,280.1 165.4,284.3 164.5,289.0 C163.6,293.7 162.4,300.7 162.0,303.0" stroke="#f5b8c4" stroke-width="2.8" stroke-opacity="0.60"/><path d="M188.5,166.0 C188.4,166.3 188.4,165.3 187.7,168.0 C186.9,170.7 185.1,177.0 184.0,182.0 C182.9,187.0 182.0,192.5 181.0,198.0 C180.0,203.5 179.0,209.8 178.1,215.0 C177.2,220.2 176.2,224.7 175.3,229.5 C174.4,234.3 173.5,239.2 172.6,244.0 C171.7,248.8 170.8,253.3 169.9,258.5 C169.0,263.7 168.1,269.9 167.2,275.0 C166.3,280.1 165.4,284.3 164.5,289.0 C163.6,293.7 162.4,300.7 162.0,303.0" stroke="#d9435f" stroke-width="1.2" stroke-opacity="1.00"/><path d="M199.7,166.0 C199.6,166.3 199.8,165.3 198.9,168.0 C198.0,170.7 195.7,177.3 194.0,182.0 C192.3,186.7 190.4,191.3 189.0,196.0 C187.6,200.7 186.6,205.3 185.5,210.0 C184.4,214.7 183.5,219.3 182.6,224.1 C181.7,228.9 180.8,233.8 179.9,238.6 C179.0,243.4 178.1,248.3 177.2,253.1 C176.3,257.9 175.2,262.8 174.4,267.6 C173.6,272.4 172.8,276.1 172.2,282.0 C171.5,287.9 170.8,299.5 170.5,303.0" stroke="#f5b8c4" stroke-width="2.8" stroke-opacity="0.60"/><path d="M199.7,166.0 C199.6,166.3 199.8,165.3 198.9,168.0 C198.0,170.7 195.7,177.3 194.0,182.0 C192.3,186.7 190.4,191.3 189.0,196.0 C187.6,200.7 186.6,205.3 185.5,210.0 C184.4,214.7 183.5,219.3 182.6,224.1 C181.7,228.9 180.8,233.8 179.9,238.6 C179.0,243.4 178.1,248.3 177.2,253.1 C176.3,257.9 175.2,262.8 174.4,267.6 C173.6,272.4 172.8,276.1 172.2,282.0 C171.5,287.9 170.8,299.5 170.5,303.0" stroke="#d9435f" stroke-width="1.2" stroke-opacity="1.00"/><path d="M222.5,166.0 C222.3,166.3 222.7,165.6 221.1,168.0 C219.5,170.4 215.7,176.0 213.0,180.2 C210.3,184.4 207.2,188.5 205.0,193.0 C202.8,197.5 201.3,202.3 200.0,207.0 C198.7,211.7 197.9,216.3 197.0,221.0 C196.1,225.7 195.4,230.5 194.4,234.9 C193.4,239.3 192.0,243.4 190.8,247.6 C189.6,251.8 188.2,255.7 187.1,260.3 C186.0,264.9 185.6,270.2 184.4,275.0 C183.2,279.8 181.3,284.3 180.0,289.0 C178.7,293.7 177.2,300.7 176.6,303.0" stroke="#f5b8c4" stroke-width="2.8" stroke-opacity="0.60"/><path d="M222.5,166.0 C222.3,166.3 222.7,165.6 221.1,168.0 C219.5,170.4 215.7,176.0 213.0,180.2 C210.3,184.4 207.2,188.5 205.0,193.0 C202.8,197.5 201.3,202.3 200.0,207.0 C198.7,211.7 197.9,216.3 197.0,221.0 C196.1,225.7 195.4,230.5 194.4,234.9 C193.4,239.3 192.0,243.4 190.8,247.6 C189.6,251.8 188.2,255.7 187.1,260.3 C186.0,264.9 185.6,270.2 184.4,275.0 C183.2,279.8 181.3,284.3 180.0,289.0 C178.7,293.7 177.2,300.7 176.6,303.0" stroke="#d9435f" stroke-width="1.2" stroke-opacity="1.00"/><path d="M226.0,290.6 C224.5,291.0 219.9,291.5 217.1,292.7 C214.3,293.9 211.2,296.1 209.0,297.8 C206.8,299.5 204.8,302.1 204.0,303.0" stroke="#f5b8c4" stroke-width="2.8" stroke-opacity="0.60"/><path d="M226.0,290.6 C224.5,291.0 219.9,291.5 217.1,292.7 C214.3,293.9 211.2,296.1 209.0,297.8 C206.8,299.5 204.8,302.1 204.0,303.0" stroke="#d9435f" stroke-width="1.2" stroke-opacity="1.00"/><path d="M128.0,303.0 C128.7,302.4 130.0,300.0 132.0,299.5 C134.0,299.0 137.4,299.9 140.1,299.8 C142.8,299.7 145.5,299.1 148.2,298.8 C150.9,298.5 153.6,297.6 156.3,297.8 C159.0,298.0 162.5,298.9 164.4,299.8 C166.3,300.7 167.4,302.5 168.0,303.0" stroke="#f5b8c4" stroke-width="2.8" stroke-opacity="0.60"/><path d="M128.0,303.0 C128.7,302.4 130.0,300.0 132.0,299.5 C134.0,299.0 137.4,299.9 140.1,299.8 C142.8,299.7 145.5,299.1 148.2,298.8 C150.9,298.5 153.6,297.6 156.3,297.8 C159.0,298.0 162.5,298.9 164.4,299.8 C166.3,300.7 167.4,302.5 168.0,303.0" stroke="#d9435f" stroke-width="1.2" stroke-opacity="1.00"/><path d="M101.0,297.0 C103.3,297.3 110.1,298.2 114.6,299.0 C119.1,299.8 125.1,300.8 128.2,301.5 C131.3,302.2 132.2,302.8 133.0,303.0" stroke="#f5b8c4" stroke-width="2.8" stroke-opacity="0.60"/><path d="M101.0,297.0 C103.3,297.3 110.1,298.2 114.6,299.0 C119.1,299.8 125.1,300.8 128.2,301.5 C131.3,302.2 132.2,302.8 133.0,303.0" stroke="#d9435f" stroke-width="1.2" stroke-opacity="1.00"/><path d="M38.0,289.7 C39.7,290.2 45.1,291.3 48.1,292.7 C51.1,294.1 54.2,296.1 56.2,297.8 C58.2,299.5 59.6,302.1 60.3,303.0" stroke="#f5b8c4" stroke-width="2.8" stroke-opacity="0.60"/><path d="M38.0,289.7 C39.7,290.2 45.1,291.3 48.1,292.7 C51.1,294.1 54.2,296.1 56.2,297.8 C58.2,299.5 59.6,302.1 60.3,303.0" stroke="#d9435f" stroke-width="1.2" stroke-opacity="1.00"/><path d="M38.0,299.0 C39.1,299.2 42.6,299.7 44.8,300.4 C47.0,301.1 50.0,302.6 51.0,303.0" stroke="#f5b8c4" stroke-width="2.8" stroke-opacity="0.60"/><path d="M38.0,299.0 C39.1,299.2 42.6,299.7 44.8,300.4 C47.0,301.1 50.0,302.6 51.0,303.0" stroke="#d9435f" stroke-width="1.2" stroke-opacity="1.00"/><path d="M39.0,167.0 C39.3,167.2 39.7,166.9 40.7,168.0 C41.7,169.1 43.4,171.1 44.8,173.4 C46.2,175.7 47.5,178.9 48.9,181.6 C50.3,184.3 51.6,187.1 53.0,189.8 C54.4,192.5 55.6,195.2 57.0,197.9 C58.4,200.6 60.0,203.9 61.1,206.1 C62.2,208.3 63.1,210.2 63.5,211.0" stroke="#b09ab4" stroke-width="1.1" stroke-opacity="1.00"/><path d="M38.0,214.6 C39.0,214.8 42.3,215.2 44.0,216.0 C45.7,216.8 46.8,217.8 48.0,219.5 C49.2,221.2 50.2,223.1 51.5,226.0 C52.8,228.9 54.3,233.0 55.8,237.0 C57.3,241.0 58.9,245.3 60.6,250.0 C62.4,254.7 64.4,260.2 66.3,265.0 C68.2,269.8 70.4,274.8 72.0,279.0 C73.6,283.2 74.7,286.0 76.0,290.0 C77.3,294.0 79.3,300.8 80.0,303.0" stroke="#b09ab4" stroke-width="1.1" stroke-opacity="1.00"/><path d="M226.0,281.6 C224.5,281.8 220.3,281.9 217.1,282.6 C213.9,283.3 210.3,284.2 207.0,285.6 C203.7,287.0 200.3,288.9 197.0,291.0 C193.7,293.1 189.5,296.2 187.0,298.0 C184.5,299.8 182.8,301.3 182.0,302.0" stroke="#b09ab4" stroke-width="1.1" stroke-opacity="1.00"/><path d="M38.0,293.8 C40.0,294.1 45.8,295.1 50.2,295.8 C54.6,296.5 59.6,297.1 64.3,297.8 C69.0,298.5 74.1,299.1 78.5,299.8 C82.9,300.5 88.7,301.6 90.7,302.0" stroke="#b09ab4" stroke-width="1.1" stroke-opacity="1.00"/><path d="M57.0,166.0 C57.5,166.3 57.7,166.3 60.3,168.0 C62.9,169.7 68.4,173.7 72.4,176.1 C76.5,178.5 80.5,180.5 84.6,182.2 C88.7,183.9 93.1,185.0 96.8,186.2 C100.5,187.4 103.9,188.0 106.9,189.3 C109.9,190.7 112.6,191.8 115.0,194.3 C117.4,196.8 119.1,201.1 121.1,204.5 C123.1,207.9 125.3,211.9 127.1,214.6 C128.9,217.3 130.5,218.8 132.0,220.7 C133.5,222.6 134.5,224.2 136.0,226.0 C137.5,227.8 140.2,230.6 141.0,231.5" stroke="#e8c8d8" stroke-width="2.4" stroke-opacity="0.50"/><path d="M57.0,166.0 C57.5,166.3 57.7,166.3 60.3,168.0 C62.9,169.7 68.4,173.7 72.4,176.1 C76.5,178.5 80.5,180.5 84.6,182.2 C88.7,183.9 93.1,185.0 96.8,186.2 C100.5,187.4 103.9,188.0 106.9,189.3 C109.9,190.7 112.6,191.8 115.0,194.3 C117.4,196.8 119.1,201.1 121.1,204.5 C123.1,207.9 125.3,211.9 127.1,214.6 C128.9,217.3 130.5,218.8 132.0,220.7 C133.5,222.6 134.5,224.2 136.0,226.0 C137.5,227.8 140.2,230.6 141.0,231.5" stroke="#a06888" stroke-width="1.2" stroke-opacity="1.00"/><path d="M128.2,167.0 C128.4,167.5 128.7,167.8 129.3,170.0 C129.9,172.2 130.5,176.5 132.0,180.2 C133.5,183.9 136.1,188.6 138.1,192.3 C140.1,196.0 142.7,200.2 144.2,202.4 C145.7,204.6 145.8,205.5 147.2,205.5 C148.5,205.5 150.1,204.6 152.3,202.4 C154.5,200.2 158.1,196.0 160.4,192.3 C162.8,188.6 164.7,183.6 166.4,180.2 C168.1,176.8 169.5,174.1 170.5,172.1 C171.5,170.1 172.1,168.8 172.5,168.0 C172.9,167.2 172.9,167.2 173.0,167.0" stroke="#e8c8d8" stroke-width="2.4" stroke-opacity="0.50"/><path d="M128.2,167.0 C128.4,167.5 128.7,167.8 129.3,170.0 C129.9,172.2 130.5,176.5 132.0,180.2 C133.5,183.9 136.1,188.6 138.1,192.3 C140.1,196.0 142.7,200.2 144.2,202.4 C145.7,204.6 145.8,205.5 147.2,205.5 C148.5,205.5 150.1,204.6 152.3,202.4 C154.5,200.2 158.1,196.0 160.4,192.3 C162.8,188.6 164.7,183.6 166.4,180.2 C168.1,176.8 169.5,174.1 170.5,172.1 C171.5,170.1 172.1,168.8 172.5,168.0 C172.9,167.2 172.9,167.2 173.0,167.0" stroke="#a06888" stroke-width="1.2" stroke-opacity="1.00"/><path d="M226.0,214.6 C225.2,215.3 222.6,216.7 221.1,218.7 C219.6,220.7 218.4,224.1 217.1,226.8 C215.8,229.5 214.3,232.5 213.0,235.0 C211.7,237.5 210.7,239.3 209.0,242.0 C207.3,244.7 204.9,247.0 202.9,251.2 C200.9,255.4 199.2,261.7 196.8,267.4 C194.4,273.1 191.4,279.7 188.7,285.6 C186.0,291.5 181.9,300.1 180.6,303.0" stroke="#e8c8d8" stroke-width="2.4" stroke-opacity="0.50"/><path d="M226.0,214.6 C225.2,215.3 222.6,216.7 221.1,218.7 C219.6,220.7 218.4,224.1 217.1,226.8 C215.8,229.5 214.3,232.5 213.0,235.0 C211.7,237.5 210.7,239.3 209.0,242.0 C207.3,244.7 204.9,247.0 202.9,251.2 C200.9,255.4 199.2,261.7 196.8,267.4 C194.4,273.1 191.4,279.7 188.7,285.6 C186.0,291.5 181.9,300.1 180.6,303.0" stroke="#a06888" stroke-width="1.2" stroke-opacity="1.00"/><path d="M172.6,236.8 C174.4,235.9 180.2,233.1 183.5,231.3 C186.8,229.5 189.8,228.0 192.6,225.9 C195.3,223.8 198.2,221.2 200.0,219.0 C201.8,216.8 202.2,215.6 203.5,213.0 C204.8,210.4 205.9,206.8 207.5,203.4 C209.1,200.0 211.2,196.1 213.0,192.5 C214.8,188.9 216.6,185.2 218.4,181.6 C220.2,178.0 222.8,173.0 223.9,170.7 C225.0,168.4 224.8,168.4 225.0,168.0" stroke="#a9c4e0" stroke-width="1.2" stroke-opacity="1.00"/><path d="M58.0,230.0 C58.5,230.8 60.0,233.3 61.0,235.0 C62.0,236.7 63.1,238.2 64.3,240.0 C65.5,241.8 66.7,244.0 68.4,246.0 C70.1,248.0 72.8,250.4 74.5,252.0 C76.2,253.6 77.8,254.8 78.5,255.3" stroke="#a9c4e0" stroke-width="1.2" stroke-opacity="1.00"/></g>
<rect x="102.5" y="228.8" width="14.6" height="10.6" fill="none" stroke="#333" stroke-width="0.9" stroke-dasharray="2.2,1.4"/>
<g clip-path="url(#cc)" fill="none" stroke-linejoin="round">
<polyline points="447.7,24.3 449.2,25.8 452.2,27.3 455.2,28.8 458.2,30.3 464.3,31.4 473.4,31.8 485.5,32.3 473.4,32.6 458.2,32.6 447.7,32.9 443.1,34.1 440.1,36.4 437.8,38.6 436.8,41.7 436.3,44.7 436.8,49.2 437.8,52.2 440.1,55.3 443.1,57.5 446.1,59.0 449.2,60.6 452.2,61.6 459.8,62.5 452.2,62.8 449.2,63.1 450.7,64.3 453.7,67.4 455.2,70.0 458.2,71.5 462.8,73.8 467.3,75.3 477.9,75.7 467.3,76.0 464.3,76.8 467.3,78.3 476.4,79.1 464.3,79.4 461.3,81.3 458.2,82.9 456.7,84.4 462.8,85.1 467.3,86.6 473.4,88.1 480.9,88.9 476.4,89.7 458.2,91.2 450.7,92.7 449.2,93.4 458.2,94.2 465.8,95.7 479.4,96.5 465.8,97.2 450.7,98.0 441.6,98.7 438.6,100.2 437.1,101.7 436.3,103.3 435.6,106.3 434.8,110.8 434.4,120.0 433.7,121.7 433.2,131.4 433.3,144.3 434.1,150.0 436.1,150.8 439.3,151.6 447.4,152.4" stroke="#e0704a" stroke-width="1" />
<linearGradient id="spk" x1="447" x2="506" y1="0" y2="0" gradientUnits="userSpaceOnUse"><stop offset="0" stop-color="#e0704a"/><stop offset="0.45" stop-color="#e88a70"/><stop offset="1" stop-color="#f4c8b8"/></linearGradient>
<polyline points="447.4,152.4 460.3,152.7 505.5,153.2 460.3,153.7 457.1,154.8" stroke="url(#spk)" stroke-width="1.2" />
<polyline points="457.1,154.8 460.3,157.2 463.5,158.8" stroke="#e0704a" stroke-width="1" />
<polyline points="433.3,24.3 433.7,29.6 434.4,34.1 435.6,38.6 437.1,41.7 439.3,44.7 441.6,46.2 444.6,47.0 446.1,47.7 441.6,48.5 439.3,50.0 438.6,52.2 439.3,54.5 440.9,56.8 443.1,58.3 441.6,59.8 440.1,61.3 439.3,62.8 438.6,64.3 440.1,65.1 441.6,65.1 440.1,66.6 438.9,68.9 438.6,72.0 438.6,79.1 439.3,86.6 439.8,88.9 437.1,89.4 434.8,90.4 434.0,91.9 434.8,94.2 435.6,100.2 437.1,106.3 438.6,110.8 441.6,114.6 444.6,116.9 449.2,119.3 453.8,121.7 458.7,122.5 492.6,123.0 453.8,123.6 447.4,124.1 442.5,125.7 439.3,128.2 436.9,130.6 436.1,132.2 437.7,133.8 440.9,134.6 444.2,135.4 440.9,136.2 440.1,137.8 440.1,140.3 441.7,142.7 444.2,144.3 445.8,146.7 447.4,150.0 450.6,153.2 454.7,154.8 457.9,155.6 455.5,156.9 452.2,158.0 450.6,158.8" stroke="#2a2ad0" stroke-width="1" />
</g>
<line x1="462.5" y1="131" x2="474" y2="131" stroke="#c08870" stroke-width="1.2"/>
<line x1="464" y1="142.7" x2="474.5" y2="142.7" stroke="#3030d0" stroke-width="1.2"/>
<g clip-path="url(#cf)" fill="none"><path d="M467.3,168.0 C467.5,169.6 468.4,174.6 468.5,177.8 C468.6,181.0 468.4,184.3 468.0,187.0 C467.6,189.7 466.1,191.9 466.2,193.8 C466.3,195.7 468.4,196.5 468.5,198.4 C468.6,200.3 467.9,203.0 466.9,205.3 C465.9,207.6 464.5,210.3 462.7,212.2 C460.9,214.1 458.1,215.3 455.8,216.8 C453.5,218.3 450.7,220.1 449.0,221.4 C447.3,222.7 445.7,223.7 445.5,224.8 C445.3,226.0 446.1,227.2 447.8,228.3 C449.5,229.5 453.1,230.8 455.8,231.7 C458.5,232.6 462.0,233.2 463.9,234.0 C465.8,234.8 466.1,235.4 467.3,236.3 C468.5,237.2 470.1,237.7 471.0,239.4 C471.9,241.1 472.4,242.5 472.5,246.6 C472.6,250.7 472.3,258.2 471.9,264.0 C471.5,269.8 470.6,276.6 470.1,281.5 C469.6,286.4 469.3,289.5 469.0,293.1 C468.7,296.7 468.2,301.4 468.1,303.0" stroke="#e06a50" stroke-width="1"/></g>
<g clip-path="url(#ce)" fill="none" stroke-linecap="round" stroke-linejoin="round"><path d="M258.5,185.0 C259.9,185.5 263.5,187.0 266.6,188.2 C269.7,189.4 273.6,191.3 277.1,192.4 C280.6,193.5 284.2,193.7 287.7,194.5 C291.2,195.3 294.8,196.6 298.3,197.3 C301.8,198.0 305.3,198.3 308.8,198.7 C312.3,199.1 316.6,200.0 319.4,199.8 C322.2,199.6 323.9,198.6 325.7,197.7 C327.5,196.8 328.4,196.1 330.0,194.5 C331.6,192.9 333.8,190.6 335.5,188.0 C337.2,185.4 339.0,181.9 340.2,178.8 C341.4,175.7 342.3,172.0 342.9,169.5 C343.5,167.0 343.6,164.9 343.8,164.0" stroke="#c8def3" stroke-width="3.5" /><path d="M291.0,166.0 C291.5,166.3 292.4,167.4 294.0,168.1 C295.6,168.8 298.3,169.1 300.4,170.2 C302.5,171.3 304.6,172.4 306.7,174.5 C308.8,176.6 310.9,179.7 313.0,182.9 C315.1,186.1 317.3,189.3 319.4,193.5 C321.5,197.7 323.8,203.7 325.7,208.3 C327.6,212.9 329.6,218.3 331.0,220.9 C332.4,223.5 333.0,224.1 334.2,224.1 C335.4,224.1 336.9,222.6 338.4,220.9 C339.8,219.2 341.5,216.2 342.9,214.0 C344.3,211.8 345.4,210.2 347.0,208.0 C348.6,205.8 349.8,203.9 352.2,200.9 C354.6,197.9 358.3,192.9 361.4,189.8 C364.5,186.7 367.2,184.7 370.6,182.5 C374.0,180.3 378.3,178.1 381.7,176.9 C385.1,175.7 387.8,175.4 390.9,175.4 C394.0,175.4 397.1,175.9 400.2,176.9 C403.3,177.9 406.3,179.7 409.4,181.5 C412.5,183.3 416.2,186.1 418.6,188.0 C421.0,189.9 423.1,192.2 424.0,193.0" stroke="#c07080" stroke-width="1.1" /><path d="M264.5,168.0 C265.0,169.7 266.4,174.8 267.5,178.0 C268.6,181.2 269.4,182.4 270.8,187.1 C272.2,191.8 274.3,199.8 276.1,206.1 C277.9,212.4 280.5,222.0 281.4,225.2" stroke="#8a7a9a" stroke-width="1.1" stroke-dasharray="1,2.2" /><path d="M341.0,256.0 C341.4,257.7 342.8,263.0 343.5,266.0 C344.2,269.0 344.6,270.7 345.3,274.0 C346.0,277.3 346.8,281.7 347.5,286.0 C348.2,290.3 349.1,297.0 349.5,300.0 C349.9,303.0 349.9,303.3 350.0,304.0" stroke="#8a7a9a" stroke-width="1.1" stroke-dasharray="1,2.2" /><line x1="258.5" y1="225.9" x2="352" y2="225.9" stroke="#5555c0" stroke-width="1.4"/><path d="M314.0,225.6 L318.0,226.3 L320.5,227.6 L322.2,229.8 L324.2,233.5 L325.8,238.5 L327.2,247.0 L328.3,258.0 L329.1,272.0 L329.7,292.5 L330.4,292.5 L331.0,272.0 L331.7,258.0 L332.5,247.0 L333.4,238.5 L334.8,234.0 L336.6,231.0 L338.7,229.3 L341.5,227.8 L345.5,226.8 L352.0,226.4 L352.0,225.6 Z" fill="#1212e8" stroke="#1212e8" stroke-width="0.4" stroke-linejoin="round"/><path d="M281.4,225.2 C281.7,226.2 282.5,228.9 283.3,231.0 C284.1,233.1 285.2,235.6 286.0,237.5 C286.8,239.4 287.4,240.6 288.2,242.3 C289.0,244.0 290.2,246.0 291.0,247.5 C291.8,249.0 292.2,250.1 293.2,251.5 C294.2,252.9 295.8,254.9 297.0,256.0 C298.2,257.1 300.0,257.8 300.6,258.2" stroke="#bca4ae" stroke-width="1.1" /><path d="M300.6,258.4 C301.9,257.4 305.2,254.5 308.1,252.2 C311.0,249.9 315.1,247.1 318.0,244.8 C320.9,242.5 323.3,240.2 325.4,238.6 C327.5,236.9 328.8,235.1 330.4,234.9 C332.0,234.7 333.9,235.9 335.3,237.4 C336.7,238.9 337.6,240.9 338.5,244.0 C339.4,247.1 340.6,254.0 341.0,256.0" stroke="#de8c9e" stroke-width="2.0" /><path d="M300.6,258.4 C301.9,257.4 305.2,254.5 308.1,252.2 C311.0,249.9 315.1,247.1 318.0,244.8 C320.9,242.5 323.3,240.2 325.4,238.6 C327.5,236.9 328.8,235.1 330.4,234.9 C332.0,234.7 333.9,235.9 335.3,237.4 C336.7,238.9 337.6,240.9 338.5,244.0 C339.4,247.1 340.6,254.0 341.0,256.0" stroke="#f4d2da" stroke-width="0.7" /></g><rect x="349" y="204" width="70.5" height="98" fill="#ffffff"/><defs><radialGradient id="hz" cx="383.4" cy="240.8" r="34" gradientUnits="userSpaceOnUse"><stop offset="0" stop-color="#ffffff"/><stop offset="0.2" stop-color="#ffffff"/><stop offset="0.45" stop-color="#e2e4f8"/><stop offset="0.8" stop-color="#dcdff6"/><stop offset="1" stop-color="#eceefa"/></radialGradient></defs><polygon points="413.4,240.8 398.4,214.8 368.4,214.8 353.4,240.8 368.4,266.8 398.4,266.8" fill="url(#hz)"/><ellipse cx="356.0" cy="218.0" rx="6.0" ry="7.0" fill="#c4c8ee" fill-opacity="0.45"/><ellipse cx="356.0" cy="265.0" rx="7.0" ry="8.0" fill="#c4c8ee" fill-opacity="0.45"/><ellipse cx="414.0" cy="232.0" rx="4.0" ry="9.0" fill="#c4c8ee" fill-opacity="0.35"/><ellipse cx="414.0" cy="256.0" rx="4.0" ry="8.0" fill="#c4c8ee" fill-opacity="0.35"/><ellipse cx="372.0" cy="272.0" rx="8.0" ry="3.0" fill="#c4c8ee" fill-opacity="0.30"/><ellipse cx="398.0" cy="273.0" rx="8.0" ry="3.0" fill="#c4c8ee" fill-opacity="0.30"/><ellipse cx="372.0" cy="208.0" rx="6.0" ry="3.0" fill="#c4c8ee" fill-opacity="0.25"/><ellipse cx="352.0" cy="241.0" rx="3.0" ry="8.0" fill="#c4c8ee" fill-opacity="0.30"/><ellipse cx="396.4" cy="233.3" rx="5.0" ry="3.0" fill="#a9aee6" fill-opacity="0.30" transform="rotate(60 396.4 233.3)"/><ellipse cx="402.5" cy="229.8" rx="5.0" ry="3.0" fill="#a9aee6" fill-opacity="0.30" transform="rotate(60 402.5 229.8)"/><ellipse cx="383.4" cy="225.8" rx="5.0" ry="3.0" fill="#a9aee6" fill-opacity="0.30" transform="rotate(0 383.4 225.8)"/><ellipse cx="383.4" cy="218.8" rx="5.0" ry="3.0" fill="#a9aee6" fill-opacity="0.30" transform="rotate(0 383.4 218.8)"/><ellipse cx="370.4" cy="233.3" rx="5.0" ry="3.0" fill="#a9aee6" fill-opacity="0.30" transform="rotate(-60 370.4 233.3)"/><ellipse cx="364.3" cy="229.8" rx="5.0" ry="3.0" fill="#a9aee6" fill-opacity="0.30" transform="rotate(-60 364.3 229.8)"/><ellipse cx="370.4" cy="248.3" rx="5.0" ry="3.0" fill="#a9aee6" fill-opacity="0.30" transform="rotate(-120 370.4 248.3)"/><ellipse cx="364.3" cy="251.8" rx="5.0" ry="3.0" fill="#a9aee6" fill-opacity="0.30" transform="rotate(-120 364.3 251.8)"/><ellipse cx="383.4" cy="255.8" rx="5.0" ry="3.0" fill="#a9aee6" fill-opacity="0.30" transform="rotate(-180 383.4 255.8)"/><ellipse cx="383.4" cy="262.8" rx="5.0" ry="3.0" fill="#a9aee6" fill-opacity="0.30" transform="rotate(-180 383.4 262.8)"/><ellipse cx="396.4" cy="248.3" rx="5.0" ry="3.0" fill="#a9aee6" fill-opacity="0.30" transform="rotate(-240 396.4 248.3)"/><ellipse cx="402.5" cy="251.8" rx="5.0" ry="3.0" fill="#a9aee6" fill-opacity="0.30" transform="rotate(-240 402.5 251.8)"/><g fill="none" stroke="#f4a8b0" stroke-width="1.1" stroke-opacity="0.45"><path d="M364,233 Q370,240 364,248.5"/><path d="M400,226.4 Q396,240 400,252.7"/><path d="M364,233 Q376,226 386,219.7"/><path d="M386,261.8 Q376,256 364,248.5"/><path d="M386,219.7 Q394,222 400,226.4"/><path d="M386,261.8 Q394,258 400,252.7"/><path d="M408,222 Q412,214 408.5,208"/><path d="M409,258.7 Q413,266 409.2,272.6"/></g><polygon points="413.4,240.8 398.4,214.8 368.4,214.8 353.4,240.8 368.4,266.8 398.4,266.8" fill="none" stroke="#6f7f50" stroke-width="0.8"/><line x1="382.4" y1="241.8" x2="398.4" y2="214.8" stroke="#909090" stroke-width="0.7"/><line x1="382.4" y1="241.8" x2="405.9" y2="227.8" stroke="#909090" stroke-width="0.7"/><circle cx="386.6" cy="209.6" r="2.6" fill="#f07070" fill-opacity="0.3"/><circle cx="386.6" cy="209.6" r="1.5" fill="#e82828" fill-opacity="0.95"/><circle cx="386.6" cy="219.8" r="2.6" fill="#f07070" fill-opacity="0.3"/><circle cx="386.6" cy="219.8" r="1.5" fill="#e82828" fill-opacity="0.95"/><circle cx="386.3" cy="215.0" r="1.5" fill="#1c1c8c"/><circle cx="400.1" cy="226.6" r="2.6" fill="#f07070" fill-opacity="0.3"/><circle cx="400.1" cy="226.6" r="1.5" fill="#e82828" fill-opacity="0.95"/><circle cx="408.2" cy="222.2" r="2.6" fill="#f07070" fill-opacity="0.3"/><circle cx="408.2" cy="222.2" r="1.5" fill="#e82828" fill-opacity="0.95"/><circle cx="404.4" cy="225.1" r="1.5" fill="#1c1c8c"/><circle cx="400.1" cy="252.7" r="2.6" fill="#f07070" fill-opacity="0.3"/><circle cx="400.1" cy="252.7" r="1.5" fill="#e82828" fill-opacity="0.95"/><circle cx="409.2" cy="258.7" r="2.6" fill="#f07070" fill-opacity="0.3"/><circle cx="409.2" cy="258.7" r="1.5" fill="#e82828" fill-opacity="0.95"/><circle cx="404.4" cy="255.7" r="1.5" fill="#1c1c8c"/><circle cx="386.6" cy="261.8" r="2.6" fill="#f07070" fill-opacity="0.3"/><circle cx="386.6" cy="261.8" r="1.5" fill="#e82828" fill-opacity="0.95"/><circle cx="386.6" cy="271.4" r="2.6" fill="#f07070" fill-opacity="0.3"/><circle cx="386.6" cy="271.4" r="1.5" fill="#e82828" fill-opacity="0.95"/><circle cx="386.3" cy="266.2" r="1.5" fill="#1c1c8c"/><circle cx="364.1" cy="248.5" r="2.6" fill="#f07070" fill-opacity="0.3"/><circle cx="364.1" cy="248.5" r="1.5" fill="#e82828" fill-opacity="0.95"/><circle cx="355.1" cy="253.5" r="2.6" fill="#f07070" fill-opacity="0.3"/><circle cx="355.1" cy="253.5" r="1.5" fill="#e82828" fill-opacity="0.95"/><circle cx="359.3" cy="251.5" r="1.5" fill="#1c1c8c"/><circle cx="355.7" cy="227.0" r="2.6" fill="#f07070" fill-opacity="0.3"/><circle cx="355.7" cy="227.0" r="1.5" fill="#e82828" fill-opacity="0.95"/><circle cx="364.1" cy="233.0" r="2.6" fill="#f07070" fill-opacity="0.3"/><circle cx="364.1" cy="233.0" r="1.5" fill="#e82828" fill-opacity="0.95"/><circle cx="359.4" cy="230.2" r="1.5" fill="#1c1c8c"/><circle cx="408.4" cy="207.8" r="1.6" fill="#e84040" fill-opacity="0.7"/><circle cx="409.2" cy="272.6" r="1.6" fill="#e84040" fill-opacity="0.7"/><line x1="419.5" y1="225.9" x2="422" y2="225.9" stroke="#5555c0" stroke-width="1.4"/><text x="350.2" y="213" font-size="8.6" font-family="Liberation Sans, Arial, sans-serif" fill="#1a1a1a" transform="translate(350.2 0) scale(1.06 1) translate(-350.2 0)">E<tspan font-size="5" dy="1.8">F</tspan><tspan dy="-1.8">+5meV</tspan></text><text x="396.0" y="213.9" font-size="8.4" font-family="Liberation Sans, Arial, sans-serif" fill="#1a1a1a">K</text><text x="406.4" y="230.4" font-size="8.4" font-family="Liberation Sans, Arial, sans-serif" fill="#1a1a1a">M</text><text x="378.3" y="248.4" font-size="8.6" font-family="Liberation Sans, Arial, sans-serif" fill="#1a1a1a">Γ</text><rect x="349.4" y="277.1" width="68.8" height="6.9" fill="url(#cbar)"/><g font-family="Liberation Sans, Arial, sans-serif" fill="#1a1a1a" font-size="5.4" text-anchor="middle"><text x="352.2" y="289.2">50.0</text><text x="367.2" y="289.2">25.0</text><text x="383.7" y="289.2">0.00</text><text x="400.2" y="289.2">-25.0</text><text x="414.2" y="289.2">-50.0</text><text x="385.5" y="298.6" font-size="6.2">Ω<tspan font-size="4" dy="1.2">z</tspan><tspan dy="-1.2"> (bohr</tspan><tspan font-size="4" dy="-2.2">2</tspan><tspan dy="2.2">)</tspan></text></g>
<rect x="38.5" y="24.5" width="188" height="134" fill="none" stroke="#787878" stroke-width="1"/><rect x="234.5" y="24.5" width="188" height="134" fill="none" stroke="#787878" stroke-width="1"/><rect x="430.5" y="24.5" width="80" height="134" fill="none" stroke="#787878" stroke-width="1"/><rect x="38.5" y="168.5" width="188" height="134" fill="none" stroke="#787878" stroke-width="1"/><rect x="258.5" y="168.5" width="164" height="134" fill="none" stroke="#787878" stroke-width="1"/><rect x="430.5" y="168.5" width="80" height="134" fill="none" stroke="#787878" stroke-width="1"/>
<g stroke="#787878" stroke-width="1"><line x1="38.5" y1="41.2" x2="40.5" y2="41.2"/><line x1="226.5" y1="41.2" x2="224.5" y2="41.2"/><line x1="38.5" y1="58.0" x2="41.5" y2="58.0"/><line x1="226.5" y1="58.0" x2="223.5" y2="58.0"/><line x1="38.5" y1="74.8" x2="40.5" y2="74.8"/><line x1="226.5" y1="74.8" x2="224.5" y2="74.8"/><line x1="38.5" y1="91.5" x2="41.5" y2="91.5"/><line x1="226.5" y1="91.5" x2="223.5" y2="91.5"/><line x1="38.5" y1="108.2" x2="40.5" y2="108.2"/><line x1="226.5" y1="108.2" x2="224.5" y2="108.2"/><line x1="38.5" y1="125.0" x2="41.5" y2="125.0"/><line x1="226.5" y1="125.0" x2="223.5" y2="125.0"/><line x1="38.5" y1="141.8" x2="40.5" y2="141.8"/><line x1="226.5" y1="141.8" x2="224.5" y2="141.8"/><line x1="234.5" y1="41.2" x2="236.5" y2="41.2"/><line x1="422.5" y1="41.2" x2="420.5" y2="41.2"/><line x1="234.5" y1="58.0" x2="237.5" y2="58.0"/><line x1="422.5" y1="58.0" x2="419.5" y2="58.0"/><line x1="234.5" y1="74.8" x2="236.5" y2="74.8"/><line x1="422.5" y1="74.8" x2="420.5" y2="74.8"/><line x1="234.5" y1="91.5" x2="237.5" y2="91.5"/><line x1="422.5" y1="91.5" x2="419.5" y2="91.5"/><line x1="234.5" y1="108.2" x2="236.5" y2="108.2"/><line x1="422.5" y1="108.2" x2="420.5" y2="108.2"/><line x1="234.5" y1="125.0" x2="237.5" y2="125.0"/><line x1="422.5" y1="125.0" x2="419.5" y2="125.0"/><line x1="234.5" y1="141.8" x2="236.5" y2="141.8"/><line x1="422.5" y1="141.8" x2="420.5" y2="141.8"/><line x1="430.5" y1="41.2" x2="432.5" y2="41.2"/><line x1="510.5" y1="41.2" x2="508.5" y2="41.2"/><line x1="430.5" y1="58.0" x2="433.5" y2="58.0"/><line x1="510.5" y1="58.0" x2="507.5" y2="58.0"/><line x1="430.5" y1="74.8" x2="432.5" y2="74.8"/><line x1="510.5" y1="74.8" x2="508.5" y2="74.8"/><line x1="430.5" y1="91.5" x2="433.5" y2="91.5"/><line x1="510.5" y1="91.5" x2="507.5" y2="91.5"/><line x1="430.5" y1="108.2" x2="432.5" y2="108.2"/><line x1="510.5" y1="108.2" x2="508.5" y2="108.2"/><line x1="430.5" y1="125.0" x2="433.5" y2="125.0"/><line x1="510.5" y1="125.0" x2="507.5" y2="125.0"/><line x1="430.5" y1="141.8" x2="432.5" y2="141.8"/><line x1="510.5" y1="141.8" x2="508.5" y2="141.8"/><line x1="38.5" y1="185.2" x2="40.5" y2="185.2"/><line x1="226.5" y1="185.2" x2="224.5" y2="185.2"/><line x1="38.5" y1="202.0" x2="41.5" y2="202.0"/><line x1="226.5" y1="202.0" x2="223.5" y2="202.0"/><line x1="38.5" y1="218.8" x2="40.5" y2="218.8"/><line x1="226.5" y1="218.8" x2="224.5" y2="218.8"/><line x1="38.5" y1="235.5" x2="41.5" y2="235.5"/><line x1="226.5" y1="235.5" x2="223.5" y2="235.5"/><line x1="38.5" y1="252.2" x2="40.5" y2="252.2"/><line x1="226.5" y1="252.2" x2="224.5" y2="252.2"/><line x1="38.5" y1="269.0" x2="41.5" y2="269.0"/><line x1="226.5" y1="269.0" x2="223.5" y2="269.0"/><line x1="38.5" y1="285.8" x2="40.5" y2="285.8"/><line x1="226.5" y1="285.8" x2="224.5" y2="285.8"/><line x1="430.5" y1="185.2" x2="432.5" y2="185.2"/><line x1="510.5" y1="185.2" x2="508.5" y2="185.2"/><line x1="430.5" y1="202.0" x2="433.5" y2="202.0"/><line x1="510.5" y1="202.0" x2="507.5" y2="202.0"/><line x1="430.5" y1="218.8" x2="432.5" y2="218.8"/><line x1="510.5" y1="218.8" x2="508.5" y2="218.8"/><line x1="430.5" y1="235.5" x2="433.5" y2="235.5"/><line x1="510.5" y1="235.5" x2="507.5" y2="235.5"/><line x1="430.5" y1="252.2" x2="432.5" y2="252.2"/><line x1="510.5" y1="252.2" x2="508.5" y2="252.2"/><line x1="430.5" y1="269.0" x2="433.5" y2="269.0"/><line x1="510.5" y1="269.0" x2="507.5" y2="269.0"/><line x1="430.5" y1="285.8" x2="432.5" y2="285.8"/><line x1="510.5" y1="285.8" x2="508.5" y2="285.8"/><line x1="258.5" y1="185.2" x2="260.5" y2="185.2"/><line x1="422.5" y1="185.2" x2="420.5" y2="185.2"/><line x1="258.5" y1="202.0" x2="261.5" y2="202.0"/><line x1="422.5" y1="202.0" x2="419.5" y2="202.0"/><line x1="258.5" y1="218.8" x2="260.5" y2="218.8"/><line x1="422.5" y1="218.8" x2="420.5" y2="218.8"/><line x1="258.5" y1="235.5" x2="261.5" y2="235.5"/><line x1="422.5" y1="235.5" x2="419.5" y2="235.5"/><line x1="258.5" y1="252.2" x2="260.5" y2="252.2"/><line x1="422.5" y1="252.2" x2="420.5" y2="252.2"/><line x1="258.5" y1="269.0" x2="261.5" y2="269.0"/><line x1="422.5" y1="269.0" x2="419.5" y2="269.0"/><line x1="258.5" y1="285.8" x2="260.5" y2="285.8"/><line x1="422.5" y1="285.8" x2="420.5" y2="285.8"/><line x1="107.5" y1="24.5" x2="107.5" y2="27.0"/><line x1="107.5" y1="158.5" x2="107.5" y2="156.0"/><line x1="147.5" y1="24.5" x2="147.5" y2="27.0"/><line x1="147.5" y1="158.5" x2="147.5" y2="156.0"/><line x1="303.5" y1="24.5" x2="303.5" y2="27.0"/><line x1="303.5" y1="158.5" x2="303.5" y2="156.0"/><line x1="343.5" y1="24.5" x2="343.5" y2="27.0"/><line x1="343.5" y1="158.5" x2="343.5" y2="156.0"/><line x1="107.5" y1="168.5" x2="107.5" y2="171.0"/><line x1="107.5" y1="302.5" x2="107.5" y2="300.0"/><line x1="147.5" y1="168.5" x2="147.5" y2="171.0"/><line x1="147.5" y1="302.5" x2="147.5" y2="300.0"/><line x1="443.8" y1="24.5" x2="443.8" y2="26.5"/><line x1="457.2" y1="24.5" x2="457.2" y2="27.0"/><line x1="470.5" y1="24.5" x2="470.5" y2="26.5"/><line x1="483.8" y1="24.5" x2="483.8" y2="27.0"/><line x1="497.2" y1="24.5" x2="497.2" y2="26.5"/><line x1="443.8" y1="302.5" x2="443.8" y2="300.5"/><line x1="457.2" y1="302.5" x2="457.2" y2="299.5"/><line x1="470.5" y1="302.5" x2="470.5" y2="300.5"/><line x1="483.8" y1="302.5" x2="483.8" y2="299.5"/><line x1="497.2" y1="302.5" x2="497.2" y2="300.5"/></g>
<g font-family="Liberation Sans, Arial, sans-serif" fill="#111" stroke="#111" stroke-width="0.32"><text transform="translate(35.20 28.20) scale(1.070 1)" font-size="10.4" text-anchor="end" >1.0</text><text transform="translate(35.20 61.70) scale(1.070 1)" font-size="10.4" text-anchor="end" >0.5</text><text transform="translate(35.20 95.20) scale(1.070 1)" font-size="10.4" text-anchor="end" >0.0</text><text transform="translate(35.20 128.70) scale(1.070 1)" font-size="10.4" text-anchor="end" >-0.5</text><text transform="translate(35.20 162.20) scale(1.070 1)" font-size="10.4" text-anchor="end" >-1.0</text><text transform="translate(10.8 91.50) rotate(-90) scale(1.09 1)" font-size="11.4" text-anchor="middle">Energy (eV)</text><text transform="translate(35.20 172.20) scale(1.070 1)" font-size="10.4" text-anchor="end" >1.0</text><text transform="translate(35.20 205.70) scale(1.070 1)" font-size="10.4" text-anchor="end" >0.5</text><text transform="translate(35.20 239.20) scale(1.070 1)" font-size="10.4" text-anchor="end" >0.0</text><text transform="translate(35.20 272.70) scale(1.070 1)" font-size="10.4" text-anchor="end" >-0.5</text><text transform="translate(35.20 306.20) scale(1.070 1)" font-size="10.4" text-anchor="end" >-1.0</text><text transform="translate(10.8 235.50) rotate(-90) scale(1.09 1)" font-size="11.4" text-anchor="middle">Energy (eV)</text><text transform="translate(255.20 172.20) scale(1.070 1)" font-size="10.4" text-anchor="end" >0.04</text><text transform="translate(255.20 205.70) scale(1.070 1)" font-size="10.4" text-anchor="end" >0.02</text><text transform="translate(255.20 239.20) scale(1.070 1)" font-size="10.4" text-anchor="end" >0.00</text><text transform="translate(255.20 272.70) scale(1.070 1)" font-size="10.4" text-anchor="end" >-0.02</text><text transform="translate(255.20 306.20) scale(1.070 1)" font-size="10.4" text-anchor="end" >-0.04</text><text transform="translate(471.40 12.10) scale(1.070 1)" font-size="10.4" text-anchor="middle" >DOS (states/eV)</text><text transform="translate(431.60 22.00) scale(1.070 1)" font-size="10.4" text-anchor="middle" >0</text><text transform="translate(458.30 22.00) scale(1.070 1)" font-size="10.4" text-anchor="middle" >6</text><text transform="translate(485.30 22.00) scale(1.070 1)" font-size="10.4" text-anchor="middle" >12</text><text transform="translate(510.90 22.00) scale(1.070 1)" font-size="10.4" text-anchor="middle" >18</text><text transform="translate(431.60 313.10) scale(1.070 1)" font-size="10.4" text-anchor="middle" >-2</text><text transform="translate(457.20 313.10) scale(1.070 1)" font-size="10.4" text-anchor="middle" >-1</text><text transform="translate(485.00 313.10) scale(1.070 1)" font-size="10.4" text-anchor="middle" >0</text><text transform="translate(512.00 313.10) scale(1.070 1)" font-size="10.4" text-anchor="middle" >1</text><text transform="translate(457.30 324.60) scale(1.070 1)" font-size="10.4" text-anchor="start" >σ</text><text transform="translate(463.60 320.80) scale(1.070 1)" font-size="6.6" text-anchor="start" >A</text><text transform="translate(463.00 328.30) scale(1.070 1)" font-size="6.6" text-anchor="start" >xy</text><text transform="translate(474.00 326.00) scale(1.070 1)" font-size="10.4" text-anchor="start" >(e</text><text transform="translate(485.30 321.20) scale(1.070 1)" font-size="6.4" text-anchor="start" >2</text><text transform="translate(488.90 326.00) scale(1.070 1)" font-size="10.4" text-anchor="start" >/h)</text><text transform="translate(38.60 313.50) scale(1.070 1)" font-size="10.4" text-anchor="middle" >Γ</text><text transform="translate(107.50 313.50) scale(1.070 1)" font-size="10.4" text-anchor="middle" >M</text><text transform="translate(147.80 313.50) scale(1.070 1)" font-size="10.4" text-anchor="middle" >K</text><text transform="translate(226.00 313.50) scale(1.070 1)" font-size="10.4" text-anchor="middle" >Γ</text><text transform="translate(261.10 313.50) scale(1.070 1)" font-size="10.4" text-anchor="middle" >Γ</text><text transform="translate(301.80 313.50) scale(1.070 1)" font-size="10.4" text-anchor="middle" >M</text><text transform="translate(422.90 313.50) scale(1.070 1)" font-size="10.4" text-anchor="middle" >K</text><text transform="translate(41.30 41.80) scale(1.070 1)" font-size="11.4" text-anchor="start" >(a)</text><text transform="translate(286.00 41.80) scale(1.070 1)" font-size="11.4" text-anchor="start" >(b)</text><text transform="translate(493.60 41.80) scale(1.070 1)" font-size="11.4" text-anchor="start" >(c)</text><text transform="translate(40.40 185.60) scale(1.070 1)" font-size="11.4" text-anchor="start" >(d)</text><text transform="translate(286.20 185.40) scale(1.070 1)" font-size="11.4" text-anchor="start" >(e)</text><text transform="translate(493.40 185.40) scale(1.070 1)" font-size="11.4" text-anchor="start" >(f)</text><text transform="translate(127.70 145.40) scale(1.070 1)" font-size="10.4" text-anchor="middle" >dn spin</text><text transform="translate(324.00 146.50) scale(1.070 1)" font-size="10.4" text-anchor="middle" >up spin</text><text transform="translate(127.90 290.70) scale(1.070 1)" font-size="10.4" text-anchor="middle" >SOC</text><text transform="translate(475.40 134.00) scale(1.000 1)" font-size="10.0" text-anchor="start" >dn spin</text><text transform="translate(475.40 145.20) scale(1.000 1)" font-size="10.0" text-anchor="start" >up spin</text><circle cx="42" cy="15.5" r="3.4" fill="#c6daef" stroke="none"/><circle cx="95.8" cy="15.4" r="3.3" fill="#e2505f" stroke="none"/><circle cx="147.6" cy="15.4" r="3.3" fill="#d4b8ec" stroke="none"/><circle cx="199.5" cy="15.4" r="3.3" fill="#aee896" stroke="none"/><text transform="translate(53.60 19.00) scale(1.000 1)" font-size="10.2" text-anchor="start" >Fe</text><text transform="translate(65.40 21.90) scale(1.070 1)" font-size="6.2" text-anchor="start" >II</text><text transform="translate(69.20 19.00) scale(1.200 1)" font-size="10.2" text-anchor="start" >-d</text><text transform="translate(107.80 19.00) scale(1.000 1)" font-size="10.2" text-anchor="start" >Fe</text><text transform="translate(119.40 21.90) scale(1.070 1)" font-size="6.2" text-anchor="start" >I</text><text transform="translate(121.60 19.00) scale(1.200 1)" font-size="10.2" text-anchor="start" >-d</text><text transform="translate(160.20 19.00) scale(1.070 1)" font-size="10.4" text-anchor="start" >Ge-p</text><text transform="translate(212.60 19.00) scale(1.070 1)" font-size="10.4" text-anchor="start" >Te-p</text></g>
<g stroke="#1a1a1a" stroke-width="1.1" fill="#1a1a1a"><line x1="272" y1="309.8" x2="291.6" y2="309.8"/><polygon points="265.8,309.9 275.4,306.9 275.4,312.9" stroke="none"/><line x1="311.8" y1="309.8" x2="405" y2="309.8"/><polygon points="412.6,309.9 402.6,306.9 402.6,312.9" stroke="none"/></g>
</svg>
</body></html>
